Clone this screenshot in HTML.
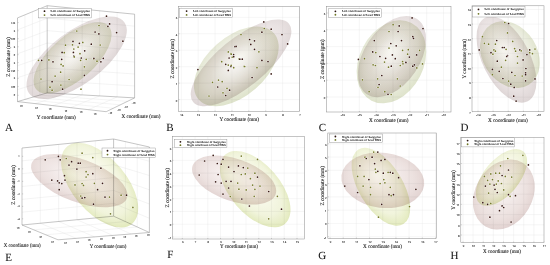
<!DOCTYPE html>
<html><head><meta charset="utf-8"><style>
html,body{margin:0;padding:0;background:#fff;width:550px;height:265px;overflow:hidden;}
svg{display:block;font-family:"Liberation Serif",serif;isolation:isolate;text-rendering:geometricPrecision}
</style></head><body><svg width="550" height="265" viewBox="0 0 550 265"><defs><radialGradient id="g1" cx="0.490" cy="0.536" r="0.56" fx="0.472" fy="0.604"><stop offset="0" stop-color="#fbf9f8"/><stop offset="0.35" stop-color="#f2eded"/><stop offset="0.7" stop-color="#eae3e3"/><stop offset="0.9" stop-color="#e1d9d9"/><stop offset="1" stop-color="#dcd4d4"/></radialGradient><radialGradient id="g2" cx="0.488" cy="0.536" r="0.56" fx="0.464" fy="0.602"><stop offset="0" stop-color="#fbfbf6"/><stop offset="0.35" stop-color="#f2f3ea"/><stop offset="0.7" stop-color="#eaecdd"/><stop offset="0.9" stop-color="#e1e5cf"/><stop offset="1" stop-color="#dde2c9"/></radialGradient><radialGradient id="g3" cx="0.5" cy="0.5" r="0.5"><stop offset="0" stop-color="#fff" stop-opacity="0.45"/><stop offset="0.5" stop-color="#fff" stop-opacity="0.225"/><stop offset="1" stop-color="#fff" stop-opacity="0"/></radialGradient><radialGradient id="g4" cx="0.525" cy="0.528" r="0.56" fx="0.572" fy="0.580"><stop offset="0" stop-color="#f9f5f4"/><stop offset="0.35" stop-color="#f3ebea"/><stop offset="0.7" stop-color="#ece1df"/><stop offset="0.9" stop-color="#e5d7d5"/><stop offset="1" stop-color="#dfd0cf"/></radialGradient><radialGradient id="g5" cx="0.536" cy="0.512" r="0.56" fx="0.602" fy="0.534"><stop offset="0" stop-color="#fdfdf6"/><stop offset="0.4" stop-color="#f8f9ea"/><stop offset="0.72" stop-color="#f1f4dc"/><stop offset="0.9" stop-color="#e7edc6"/><stop offset="1" stop-color="#dfe7b6"/></radialGradient><radialGradient id="g6" cx="0.489" cy="0.536" r="0.56" fx="0.468" fy="0.603"><stop offset="0" stop-color="#fbf9f8"/><stop offset="0.35" stop-color="#f2eded"/><stop offset="0.7" stop-color="#eae3e3"/><stop offset="0.9" stop-color="#e1d9d9"/><stop offset="1" stop-color="#dcd4d4"/></radialGradient><radialGradient id="g7" cx="0.487" cy="0.536" r="0.56" fx="0.464" fy="0.602"><stop offset="0" stop-color="#fbfbf6"/><stop offset="0.35" stop-color="#f2f3ea"/><stop offset="0.7" stop-color="#eaecdd"/><stop offset="0.9" stop-color="#e1e5cf"/><stop offset="1" stop-color="#dde2c9"/></radialGradient><radialGradient id="g8" cx="0.5" cy="0.5" r="0.5"><stop offset="0" stop-color="#fff" stop-opacity="0.45"/><stop offset="0.5" stop-color="#fff" stop-opacity="0.225"/><stop offset="1" stop-color="#fff" stop-opacity="0"/></radialGradient><radialGradient id="g9" cx="0.521" cy="0.469" r="0.56" fx="0.561" fy="0.411"><stop offset="0" stop-color="#fbf9f8"/><stop offset="0.35" stop-color="#f2eded"/><stop offset="0.7" stop-color="#eae3e3"/><stop offset="0.9" stop-color="#e1d9d9"/><stop offset="1" stop-color="#dcd4d4"/></radialGradient><radialGradient id="g10" cx="0.525" cy="0.472" r="0.56" fx="0.571" fy="0.419"><stop offset="0" stop-color="#fbfbf6"/><stop offset="0.35" stop-color="#f2f3ea"/><stop offset="0.7" stop-color="#eaecdd"/><stop offset="0.9" stop-color="#e1e5cf"/><stop offset="1" stop-color="#dde2c9"/></radialGradient><radialGradient id="g11" cx="0.5" cy="0.5" r="0.5"><stop offset="0" stop-color="#fff" stop-opacity="0.3"/><stop offset="0.5" stop-color="#fff" stop-opacity="0.15"/><stop offset="1" stop-color="#fff" stop-opacity="0"/></radialGradient><radialGradient id="g12" cx="0.538" cy="0.503" r="0.56" fx="0.607" fy="0.510"><stop offset="0" stop-color="#fbf9f8"/><stop offset="0.35" stop-color="#f2eded"/><stop offset="0.7" stop-color="#eae3e3"/><stop offset="0.9" stop-color="#e1d9d9"/><stop offset="1" stop-color="#dcd4d4"/></radialGradient><radialGradient id="g13" cx="0.537" cy="0.507" r="0.56" fx="0.606" fy="0.519"><stop offset="0" stop-color="#fbfbf6"/><stop offset="0.35" stop-color="#f2f3ea"/><stop offset="0.7" stop-color="#eaecdd"/><stop offset="0.9" stop-color="#e1e5cf"/><stop offset="1" stop-color="#dde2c9"/></radialGradient><radialGradient id="g14" cx="0.5" cy="0.5" r="0.5"><stop offset="0" stop-color="#fff" stop-opacity="0.3"/><stop offset="0.5" stop-color="#fff" stop-opacity="0.15"/><stop offset="1" stop-color="#fff" stop-opacity="0"/></radialGradient><radialGradient id="g15" cx="0.525" cy="0.529" r="0.56" fx="0.570" fy="0.582"><stop offset="0" stop-color="#f9f5f4"/><stop offset="0.35" stop-color="#f3ebea"/><stop offset="0.7" stop-color="#ece1df"/><stop offset="0.9" stop-color="#e5d7d5"/><stop offset="1" stop-color="#dfd0cf"/></radialGradient><radialGradient id="g16" cx="0.536" cy="0.512" r="0.56" fx="0.602" fy="0.535"><stop offset="0" stop-color="#fdfdf6"/><stop offset="0.4" stop-color="#f8f9ea"/><stop offset="0.72" stop-color="#f1f4dc"/><stop offset="0.9" stop-color="#e7edc6"/><stop offset="1" stop-color="#dfe7b6"/></radialGradient><radialGradient id="g17" cx="0.518" cy="0.533" r="0.56" fx="0.552" fy="0.594"><stop offset="0" stop-color="#f9f5f4"/><stop offset="0.35" stop-color="#f3ebea"/><stop offset="0.7" stop-color="#ece1df"/><stop offset="0.9" stop-color="#e5d7d5"/><stop offset="1" stop-color="#dfd0cf"/></radialGradient><radialGradient id="g18" cx="0.537" cy="0.506" r="0.56" fx="0.606" fy="0.517"><stop offset="0" stop-color="#fdfdf6"/><stop offset="0.4" stop-color="#f8f9ea"/><stop offset="0.72" stop-color="#f1f4dc"/><stop offset="0.9" stop-color="#e7edc6"/><stop offset="1" stop-color="#dfe7b6"/></radialGradient><radialGradient id="g19" cx="0.523" cy="0.470" r="0.56" fx="0.567" fy="0.415"><stop offset="0" stop-color="#f9f5f4"/><stop offset="0.35" stop-color="#f3ebea"/><stop offset="0.7" stop-color="#ece1df"/><stop offset="0.9" stop-color="#e5d7d5"/><stop offset="1" stop-color="#dfd0cf"/></radialGradient><radialGradient id="g20" cx="0.518" cy="0.467" r="0.56" fx="0.551" fy="0.405"><stop offset="0" stop-color="#fdfdf6"/><stop offset="0.4" stop-color="#f8f9ea"/><stop offset="0.72" stop-color="#f1f4dc"/><stop offset="0.9" stop-color="#e7edc6"/><stop offset="1" stop-color="#dfe7b6"/></radialGradient></defs><rect width="550" height="265" fill="#fff"/><g font-family="Liberation Serif">
<line x1="24.93" y1="14.85" x2="24.93" y2="99.42" stroke="#e0e0e0" stroke-width="0.35"/>
<line x1="32.35" y1="11.80" x2="32.35" y2="97.25" stroke="#e0e0e0" stroke-width="0.35"/>
<line x1="39.78" y1="8.75" x2="39.78" y2="95.08" stroke="#e0e0e0" stroke-width="0.35"/>
<line x1="17.50" y1="29.86" x2="47.20" y2="18.16" stroke="#e0e0e0" stroke-width="0.35"/>
<line x1="47.20" y1="18.16" x2="134.60" y2="26.16" stroke="#e0e0e0" stroke-width="0.35"/>
<line x1="17.50" y1="41.81" x2="47.20" y2="30.61" stroke="#e0e0e0" stroke-width="0.35"/>
<line x1="47.20" y1="30.61" x2="134.60" y2="38.11" stroke="#e0e0e0" stroke-width="0.35"/>
<line x1="17.50" y1="53.77" x2="47.20" y2="43.07" stroke="#e0e0e0" stroke-width="0.35"/>
<line x1="47.20" y1="43.07" x2="134.60" y2="50.07" stroke="#e0e0e0" stroke-width="0.35"/>
<line x1="17.50" y1="65.73" x2="47.20" y2="55.53" stroke="#e0e0e0" stroke-width="0.35"/>
<line x1="47.20" y1="55.53" x2="134.60" y2="62.03" stroke="#e0e0e0" stroke-width="0.35"/>
<line x1="17.50" y1="77.69" x2="47.20" y2="67.99" stroke="#e0e0e0" stroke-width="0.35"/>
<line x1="47.20" y1="67.99" x2="134.60" y2="73.99" stroke="#e0e0e0" stroke-width="0.35"/>
<line x1="17.50" y1="89.64" x2="47.20" y2="80.44" stroke="#e0e0e0" stroke-width="0.35"/>
<line x1="47.20" y1="80.44" x2="134.60" y2="85.94" stroke="#e0e0e0" stroke-width="0.35"/>
<line x1="64.68" y1="7.40" x2="64.68" y2="93.90" stroke="#e0e0e0" stroke-width="0.35"/>
<line x1="82.16" y1="9.10" x2="82.16" y2="94.90" stroke="#e0e0e0" stroke-width="0.35"/>
<line x1="99.64" y1="10.80" x2="99.64" y2="95.90" stroke="#e0e0e0" stroke-width="0.35"/>
<line x1="117.12" y1="12.50" x2="117.12" y2="96.90" stroke="#e0e0e0" stroke-width="0.35"/>
<line x1="35.24" y1="103.62" x2="64.68" y2="93.90" stroke="#e0e0e0" stroke-width="0.35"/>
<line x1="52.98" y1="105.64" x2="82.16" y2="94.90" stroke="#e0e0e0" stroke-width="0.35"/>
<line x1="70.72" y1="107.66" x2="99.64" y2="95.90" stroke="#e0e0e0" stroke-width="0.35"/>
<line x1="88.46" y1="109.68" x2="117.12" y2="96.90" stroke="#e0e0e0" stroke-width="0.35"/>
<line x1="24.93" y1="99.42" x2="113.30" y2="108.25" stroke="#e0e0e0" stroke-width="0.35"/>
<line x1="32.35" y1="97.25" x2="120.40" y2="104.80" stroke="#e0e0e0" stroke-width="0.35"/>
<line x1="39.78" y1="95.08" x2="127.50" y2="101.35" stroke="#e0e0e0" stroke-width="0.35"/>
<line x1="17.50" y1="17.90" x2="17.50" y2="101.60" stroke="#8c8c8c" stroke-width="0.5"/>
<line x1="47.20" y1="5.70" x2="47.20" y2="92.90" stroke="#8c8c8c" stroke-width="0.5"/>
<line x1="134.60" y1="14.20" x2="134.60" y2="97.90" stroke="#8c8c8c" stroke-width="0.5"/>
<line x1="17.50" y1="17.90" x2="47.20" y2="5.70" stroke="#8c8c8c" stroke-width="0.5"/>
<line x1="47.20" y1="5.70" x2="134.60" y2="14.20" stroke="#8c8c8c" stroke-width="0.5"/>
<line x1="17.50" y1="101.60" x2="47.20" y2="92.90" stroke="#8c8c8c" stroke-width="0.5"/>
<line x1="47.20" y1="92.90" x2="134.60" y2="97.90" stroke="#8c8c8c" stroke-width="0.5"/>
<line x1="17.50" y1="101.60" x2="106.20" y2="111.70" stroke="#8c8c8c" stroke-width="0.5"/>
<line x1="106.20" y1="111.70" x2="134.60" y2="97.90" stroke="#8c8c8c" stroke-width="0.5"/>
<text x="15.20" y="23.50" font-size="2.8" text-anchor="end" fill="#111" stroke="#222" stroke-width="0.08">125</text>
<line x1="17.50" y1="22.60" x2="18.70" y2="22.60" stroke="#777" stroke-width="0.3"/>
<text x="15.20" y="31.70" font-size="2.8" text-anchor="end" fill="#111" stroke="#222" stroke-width="0.08">5</text>
<line x1="17.50" y1="30.80" x2="18.70" y2="30.80" stroke="#777" stroke-width="0.3"/>
<text x="15.20" y="39.60" font-size="2.8" text-anchor="end" fill="#111" stroke="#222" stroke-width="0.08">100</text>
<line x1="17.50" y1="38.70" x2="18.70" y2="38.70" stroke="#777" stroke-width="0.3"/>
<text x="15.20" y="47.70" font-size="2.8" text-anchor="end" fill="#111" stroke="#222" stroke-width="0.08">5</text>
<line x1="17.50" y1="46.80" x2="18.70" y2="46.80" stroke="#777" stroke-width="0.3"/>
<text x="15.20" y="55.60" font-size="2.8" text-anchor="end" fill="#111" stroke="#222" stroke-width="0.08">0</text>
<line x1="17.50" y1="54.70" x2="18.70" y2="54.70" stroke="#777" stroke-width="0.3"/>
<text x="15.20" y="63.50" font-size="2.8" text-anchor="end" fill="#111" stroke="#222" stroke-width="0.08">5</text>
<line x1="17.50" y1="62.60" x2="18.70" y2="62.60" stroke="#777" stroke-width="0.3"/>
<text x="15.20" y="71.50" font-size="2.8" text-anchor="end" fill="#111" stroke="#222" stroke-width="0.08">150</text>
<line x1="17.50" y1="70.60" x2="18.70" y2="70.60" stroke="#777" stroke-width="0.3"/>
<text x="15.20" y="79.40" font-size="2.8" text-anchor="end" fill="#111" stroke="#222" stroke-width="0.08">5</text>
<line x1="17.50" y1="78.50" x2="18.70" y2="78.50" stroke="#777" stroke-width="0.3"/>
<text x="15.20" y="87.50" font-size="2.8" text-anchor="end" fill="#111" stroke="#222" stroke-width="0.08">100</text>
<line x1="17.50" y1="86.60" x2="18.70" y2="86.60" stroke="#777" stroke-width="0.3"/>
<text x="15.20" y="96.20" font-size="2.8" text-anchor="end" fill="#111" stroke="#222" stroke-width="0.08">0</text>
<line x1="17.50" y1="95.30" x2="18.70" y2="95.30" stroke="#777" stroke-width="0.3"/>
<text x="21.30" y="107.00" font-size="2.8" text-anchor="middle" fill="#111" stroke="#222" stroke-width="0.08">10</text>
<text x="36.40" y="108.50" font-size="2.8" text-anchor="middle" fill="#111" stroke="#222" stroke-width="0.08">10</text>
<text x="50.00" y="110.00" font-size="2.8" text-anchor="middle" fill="#111" stroke="#222" stroke-width="0.08">10</text>
<text x="65.80" y="111.50" font-size="2.8" text-anchor="middle" fill="#111" stroke="#222" stroke-width="0.08">10</text>
<text x="81.00" y="113.20" font-size="2.8" text-anchor="middle" fill="#111" stroke="#222" stroke-width="0.08">10</text>
<text x="95.00" y="114.70" font-size="2.8" text-anchor="middle" fill="#111" stroke="#222" stroke-width="0.08">10</text>
<text x="110.40" y="113.90" font-size="2.8" text-anchor="middle" fill="#111" stroke="#222" stroke-width="0.08">-10</text>
<text x="118.90" y="110.90" font-size="2.8" text-anchor="middle" fill="#111" stroke="#222" stroke-width="0.08">-10</text>
<text x="126.00" y="107.70" font-size="2.8" text-anchor="middle" fill="#111" stroke="#222" stroke-width="0.08">-10</text>
<text x="133.60" y="104.30" font-size="2.8" text-anchor="middle" fill="#111" stroke="#222" stroke-width="0.08">-10</text>
<text x="56.30" y="118.80" font-size="5.5" text-anchor="middle" fill="#111" textLength="39.00" lengthAdjust="spacingAndGlyphs" stroke="#111" stroke-width="0.09">Y coordinate (mm)</text>
<text x="141.00" y="118.20" font-size="5.5" text-anchor="middle" fill="#111" textLength="39.00" lengthAdjust="spacingAndGlyphs" stroke="#111" stroke-width="0.09">X coordinate (mm)</text>
<text x="9.60" y="57.00" font-size="5.5" text-anchor="middle" fill="#111" textLength="39.50" lengthAdjust="spacingAndGlyphs" transform="rotate(-90 9.60 57.00)" stroke="#111" stroke-width="0.09">Z coordinate (mm)</text>
<text x="9.00" y="130.80" font-size="11" text-anchor="middle" fill="#111" stroke="#111" stroke-width="0.05">A</text>
<ellipse cx="76.67" cy="57.72" rx="59.47" ry="26.13" transform="rotate(143.26 76.67 57.72)" fill="url(#g1)" stroke="none" style="mix-blend-mode:multiply"/>
<ellipse cx="72.57" cy="57.86" rx="48.03" ry="22.13" transform="rotate(138.88 72.57 57.86)" fill="url(#g2)" stroke="none" style="mix-blend-mode:multiply"/>
<ellipse cx="72.57" cy="57.86" rx="28.82" ry="13.28" transform="rotate(138.88 72.57 57.86)" fill="url(#g3)"/>
<circle cx="76.80" cy="31.00" r="1.3" fill="#fff" fill-opacity="0.65"/><circle cx="76.80" cy="31.00" r="0.85" fill="#767a2a"/>
<circle cx="95.10" cy="32.00" r="1.3" fill="#fff" fill-opacity="0.65"/><circle cx="95.10" cy="32.00" r="0.85" fill="#3a1a14"/>
<circle cx="98.90" cy="33.90" r="1.3" fill="#fff" fill-opacity="0.65"/><circle cx="98.90" cy="33.90" r="0.85" fill="#3a1a14"/>
<circle cx="73.00" cy="41.40" r="1.3" fill="#fff" fill-opacity="0.65"/><circle cx="73.00" cy="41.40" r="0.85" fill="#3a1a14"/>
<circle cx="79.40" cy="43.30" r="1.3" fill="#fff" fill-opacity="0.65"/><circle cx="79.40" cy="43.30" r="0.85" fill="#3a1a14"/>
<circle cx="82.80" cy="42.40" r="1.3" fill="#fff" fill-opacity="0.65"/><circle cx="82.80" cy="42.40" r="0.85" fill="#767a2a"/>
<circle cx="91.30" cy="44.20" r="1.3" fill="#fff" fill-opacity="0.65"/><circle cx="91.30" cy="44.20" r="0.85" fill="#3a1a14"/>
<circle cx="65.50" cy="45.20" r="1.3" fill="#fff" fill-opacity="0.65"/><circle cx="65.50" cy="45.20" r="0.85" fill="#767a2a"/>
<circle cx="72.50" cy="44.80" r="1.3" fill="#fff" fill-opacity="0.65"/><circle cx="72.50" cy="44.80" r="0.85" fill="#767a2a"/>
<circle cx="78.10" cy="47.10" r="1.3" fill="#fff" fill-opacity="0.65"/><circle cx="78.10" cy="47.10" r="0.85" fill="#767a2a"/>
<circle cx="73.80" cy="49.00" r="1.3" fill="#fff" fill-opacity="0.65"/><circle cx="73.80" cy="49.00" r="0.85" fill="#767a2a"/>
<circle cx="84.70" cy="50.80" r="1.3" fill="#fff" fill-opacity="0.65"/><circle cx="84.70" cy="50.80" r="0.85" fill="#3a1a14"/>
<circle cx="62.10" cy="52.40" r="1.3" fill="#fff" fill-opacity="0.65"/><circle cx="62.10" cy="52.40" r="0.85" fill="#3a1a14"/>
<circle cx="64.30" cy="52.70" r="1.3" fill="#fff" fill-opacity="0.65"/><circle cx="64.30" cy="52.70" r="0.85" fill="#767a2a"/>
<circle cx="73.40" cy="52.40" r="1.3" fill="#fff" fill-opacity="0.65"/><circle cx="73.40" cy="52.40" r="0.85" fill="#3a1a14"/>
<circle cx="80.00" cy="53.70" r="1.3" fill="#fff" fill-opacity="0.65"/><circle cx="80.00" cy="53.70" r="0.85" fill="#767a2a"/>
<circle cx="73.80" cy="56.10" r="1.3" fill="#fff" fill-opacity="0.65"/><circle cx="73.80" cy="56.10" r="0.85" fill="#3a1a14"/>
<circle cx="74.30" cy="56.90" r="1.3" fill="#fff" fill-opacity="0.65"/><circle cx="74.30" cy="56.90" r="0.85" fill="#767a2a"/>
<circle cx="81.30" cy="58.00" r="1.3" fill="#fff" fill-opacity="0.65"/><circle cx="81.30" cy="58.00" r="0.85" fill="#3a1a14"/>
<circle cx="86.20" cy="59.30" r="1.3" fill="#fff" fill-opacity="0.65"/><circle cx="86.20" cy="59.30" r="0.85" fill="#767a2a"/>
<circle cx="93.80" cy="58.80" r="1.3" fill="#fff" fill-opacity="0.65"/><circle cx="93.80" cy="58.80" r="0.85" fill="#767a2a"/>
<circle cx="38.50" cy="60.30" r="1.3" fill="#fff" fill-opacity="0.65"/><circle cx="38.50" cy="60.30" r="0.85" fill="#767a2a"/>
<circle cx="41.70" cy="60.30" r="1.3" fill="#fff" fill-opacity="0.65"/><circle cx="41.70" cy="60.30" r="0.85" fill="#3a1a14"/>
<circle cx="48.90" cy="59.90" r="1.3" fill="#fff" fill-opacity="0.65"/><circle cx="48.90" cy="59.90" r="0.85" fill="#767a2a"/>
<circle cx="53.00" cy="61.80" r="1.3" fill="#fff" fill-opacity="0.65"/><circle cx="53.00" cy="61.80" r="0.85" fill="#3a1a14"/>
<circle cx="61.70" cy="59.30" r="1.3" fill="#fff" fill-opacity="0.65"/><circle cx="61.70" cy="59.30" r="0.85" fill="#3a1a14"/>
<circle cx="80.60" cy="60.30" r="1.3" fill="#fff" fill-opacity="0.65"/><circle cx="80.60" cy="60.30" r="0.85" fill="#767a2a"/>
<circle cx="97.00" cy="61.20" r="1.3" fill="#fff" fill-opacity="0.65"/><circle cx="97.00" cy="61.20" r="0.85" fill="#767a2a"/>
<circle cx="61.10" cy="64.40" r="1.3" fill="#fff" fill-opacity="0.65"/><circle cx="61.10" cy="64.40" r="0.85" fill="#767a2a"/>
<circle cx="63.10" cy="65.90" r="1.3" fill="#fff" fill-opacity="0.65"/><circle cx="63.10" cy="65.90" r="0.85" fill="#767a2a"/>
<circle cx="84.40" cy="66.80" r="1.3" fill="#fff" fill-opacity="0.65"/><circle cx="84.40" cy="66.80" r="0.85" fill="#767a2a"/>
<circle cx="60.60" cy="72.20" r="1.3" fill="#fff" fill-opacity="0.65"/><circle cx="60.60" cy="72.20" r="0.85" fill="#767a2a"/>
<circle cx="55.10" cy="76.10" r="1.3" fill="#fff" fill-opacity="0.65"/><circle cx="55.10" cy="76.10" r="0.85" fill="#767a2a"/>
<circle cx="84.40" cy="75.30" r="1.3" fill="#fff" fill-opacity="0.65"/><circle cx="84.40" cy="75.30" r="0.85" fill="#3a1a14"/>
<circle cx="41.00" cy="79.00" r="1.3" fill="#fff" fill-opacity="0.65"/><circle cx="41.00" cy="79.00" r="0.85" fill="#767a2a"/>
<circle cx="69.10" cy="79.50" r="1.3" fill="#fff" fill-opacity="0.65"/><circle cx="69.10" cy="79.50" r="0.85" fill="#767a2a"/>
<circle cx="52.10" cy="81.70" r="1.3" fill="#fff" fill-opacity="0.65"/><circle cx="52.10" cy="81.70" r="0.85" fill="#3a1a14"/>
<circle cx="60.90" cy="85.10" r="1.3" fill="#fff" fill-opacity="0.65"/><circle cx="60.90" cy="85.10" r="0.85" fill="#767a2a"/>
<circle cx="50.00" cy="87.20" r="1.3" fill="#fff" fill-opacity="0.65"/><circle cx="50.00" cy="87.20" r="0.85" fill="#767a2a"/>
<circle cx="52.10" cy="90.20" r="1.3" fill="#fff" fill-opacity="0.65"/><circle cx="52.10" cy="90.20" r="0.85" fill="#767a2a"/>
<circle cx="62.60" cy="89.20" r="1.3" fill="#fff" fill-opacity="0.65"/><circle cx="62.60" cy="89.20" r="0.85" fill="#3a1a14"/>
<circle cx="81.00" cy="89.20" r="1.3" fill="#fff" fill-opacity="0.65"/><circle cx="81.00" cy="89.20" r="0.85" fill="#767a2a"/>
<circle cx="106.50" cy="16.20" r="1.3" fill="#fff" fill-opacity="0.65"/><circle cx="106.50" cy="16.20" r="0.85" fill="#3a1a14"/>
<circle cx="109.60" cy="23.90" r="1.3" fill="#fff" fill-opacity="0.65"/><circle cx="109.60" cy="23.90" r="0.85" fill="#3a1a14"/>
<circle cx="107.90" cy="26.30" r="1.3" fill="#fff" fill-opacity="0.65"/><circle cx="107.90" cy="26.30" r="0.85" fill="#3a1a14"/>
<circle cx="99.00" cy="25.50" r="1.3" fill="#fff" fill-opacity="0.65"/><circle cx="99.00" cy="25.50" r="0.85" fill="#767a2a"/>
<circle cx="116.60" cy="32.60" r="1.3" fill="#fff" fill-opacity="0.65"/><circle cx="116.60" cy="32.60" r="0.85" fill="#3a1a14"/>
<circle cx="122.90" cy="41.20" r="1.3" fill="#fff" fill-opacity="0.65"/><circle cx="122.90" cy="41.20" r="0.85" fill="#3a1a14"/>
<circle cx="100.20" cy="45.00" r="1.3" fill="#fff" fill-opacity="0.65"/><circle cx="100.20" cy="45.00" r="0.85" fill="#767a2a"/>
<circle cx="103.30" cy="58.30" r="1.3" fill="#fff" fill-opacity="0.65"/><circle cx="103.30" cy="58.30" r="0.85" fill="#3a1a14"/>
<circle cx="93.90" cy="58.30" r="1.3" fill="#fff" fill-opacity="0.65"/><circle cx="93.90" cy="58.30" r="0.85" fill="#3a1a14"/>
<circle cx="100.90" cy="61.80" r="1.3" fill="#fff" fill-opacity="0.65"/><circle cx="100.90" cy="61.80" r="0.85" fill="#3a1a14"/>
<rect x="38.3" y="8.3" width="52.900000000000006" height="9.599999999999998" fill="#fff" stroke="#888" stroke-width="0.4"/>
<circle cx="44.5" cy="11.18" r="0.9" fill="#2a1410"/>
<circle cx="44.5" cy="15.12" r="0.9" fill="#6b7420"/>
<text transform="translate(50.50 12.23) scale(0.2900)" x="0" y="0" font-size="10" fill="#111" textLength="136.2" lengthAdjust="spacingAndGlyphs" text-rendering="geometricPrecision" stroke="#111" stroke-width="0.241">Left coordinate of Surgiplan</text>
<text transform="translate(50.50 16.17) scale(0.2900)" x="0" y="0" font-size="10" fill="#111" textLength="136.2" lengthAdjust="spacingAndGlyphs" text-rendering="geometricPrecision" stroke="#111" stroke-width="0.241">Left coordinate of Lead DBS</text>
<line x1="40.32" y1="146.20" x2="40.32" y2="223.24" stroke="#e0e0e0" stroke-width="0.35"/>
<line x1="58.64" y1="144.40" x2="58.64" y2="221.48" stroke="#e0e0e0" stroke-width="0.35"/>
<line x1="76.96" y1="142.60" x2="76.96" y2="219.72" stroke="#e0e0e0" stroke-width="0.35"/>
<line x1="95.28" y1="140.80" x2="95.28" y2="217.96" stroke="#e0e0e0" stroke-width="0.35"/>
<line x1="22.00" y1="160.83" x2="113.60" y2="151.87" stroke="#e0e0e0" stroke-width="0.35"/>
<line x1="113.60" y1="151.87" x2="149.40" y2="161.25" stroke="#e0e0e0" stroke-width="0.35"/>
<line x1="22.00" y1="173.67" x2="113.60" y2="164.73" stroke="#e0e0e0" stroke-width="0.35"/>
<line x1="113.60" y1="164.73" x2="149.40" y2="175.50" stroke="#e0e0e0" stroke-width="0.35"/>
<line x1="22.00" y1="186.50" x2="113.60" y2="177.60" stroke="#e0e0e0" stroke-width="0.35"/>
<line x1="113.60" y1="177.60" x2="149.40" y2="189.75" stroke="#e0e0e0" stroke-width="0.35"/>
<line x1="22.00" y1="199.33" x2="113.60" y2="190.47" stroke="#e0e0e0" stroke-width="0.35"/>
<line x1="113.60" y1="190.47" x2="149.40" y2="204.00" stroke="#e0e0e0" stroke-width="0.35"/>
<line x1="22.00" y1="212.17" x2="113.60" y2="203.33" stroke="#e0e0e0" stroke-width="0.35"/>
<line x1="113.60" y1="203.33" x2="149.40" y2="218.25" stroke="#e0e0e0" stroke-width="0.35"/>
<line x1="125.41" y1="141.64" x2="125.41" y2="221.58" stroke="#e0e0e0" stroke-width="0.35"/>
<line x1="137.23" y1="144.28" x2="137.23" y2="226.96" stroke="#e0e0e0" stroke-width="0.35"/>
<line x1="33.88" y1="229.88" x2="125.41" y2="221.58" stroke="#e0e0e0" stroke-width="0.35"/>
<line x1="45.76" y1="234.77" x2="137.23" y2="226.96" stroke="#e0e0e0" stroke-width="0.35"/>
<line x1="40.32" y1="223.24" x2="76.28" y2="238.34" stroke="#e0e0e0" stroke-width="0.35"/>
<line x1="58.64" y1="221.48" x2="94.56" y2="236.88" stroke="#e0e0e0" stroke-width="0.35"/>
<line x1="76.96" y1="219.72" x2="112.84" y2="235.42" stroke="#e0e0e0" stroke-width="0.35"/>
<line x1="95.28" y1="217.96" x2="131.12" y2="233.96" stroke="#e0e0e0" stroke-width="0.35"/>
<line x1="22.00" y1="148.00" x2="22.00" y2="225.00" stroke="#8c8c8c" stroke-width="0.5"/>
<line x1="113.60" y1="139.00" x2="113.60" y2="216.20" stroke="#8c8c8c" stroke-width="0.5"/>
<line x1="149.40" y1="147.00" x2="149.40" y2="232.50" stroke="#8c8c8c" stroke-width="0.5"/>
<line x1="22.00" y1="148.00" x2="113.60" y2="139.00" stroke="#8c8c8c" stroke-width="0.5"/>
<line x1="113.60" y1="139.00" x2="149.40" y2="147.00" stroke="#8c8c8c" stroke-width="0.5"/>
<line x1="22.00" y1="225.00" x2="113.60" y2="216.20" stroke="#8c8c8c" stroke-width="0.5"/>
<line x1="113.60" y1="216.20" x2="149.40" y2="232.50" stroke="#8c8c8c" stroke-width="0.5"/>
<line x1="22.00" y1="225.00" x2="58.00" y2="239.80" stroke="#8c8c8c" stroke-width="0.5"/>
<line x1="58.00" y1="239.80" x2="149.40" y2="232.50" stroke="#8c8c8c" stroke-width="0.5"/>
<text x="19.60" y="157.30" font-size="2.8" text-anchor="end" fill="#111" stroke="#222" stroke-width="0.08">1</text>
<line x1="22.00" y1="156.30" x2="23.20" y2="156.30" stroke="#777" stroke-width="0.3"/>
<text x="19.60" y="169.80" font-size="2.8" text-anchor="end" fill="#111" stroke="#222" stroke-width="0.08">0</text>
<line x1="22.00" y1="168.80" x2="23.20" y2="168.80" stroke="#777" stroke-width="0.3"/>
<text x="19.60" y="182.40" font-size="2.8" text-anchor="end" fill="#111" stroke="#222" stroke-width="0.08">-1</text>
<line x1="22.00" y1="181.40" x2="23.20" y2="181.40" stroke="#777" stroke-width="0.3"/>
<text x="19.60" y="194.90" font-size="2.8" text-anchor="end" fill="#111" stroke="#222" stroke-width="0.08">-2</text>
<line x1="22.00" y1="193.90" x2="23.20" y2="193.90" stroke="#777" stroke-width="0.3"/>
<text x="19.60" y="207.40" font-size="2.8" text-anchor="end" fill="#111" stroke="#222" stroke-width="0.08">-3</text>
<line x1="22.00" y1="206.40" x2="23.20" y2="206.40" stroke="#777" stroke-width="0.3"/>
<text x="19.60" y="219.80" font-size="2.8" text-anchor="end" fill="#111" stroke="#222" stroke-width="0.08">-4</text>
<line x1="22.00" y1="218.80" x2="23.20" y2="218.80" stroke="#777" stroke-width="0.3"/>
<text x="17.90" y="228.80" font-size="2.8" text-anchor="middle" fill="#111" stroke="#222" stroke-width="0.08">10</text>
<text x="29.20" y="233.40" font-size="2.8" text-anchor="middle" fill="#111" stroke="#222" stroke-width="0.08">10</text>
<text x="40.60" y="238.30" font-size="2.8" text-anchor="middle" fill="#111" stroke="#222" stroke-width="0.08">10</text>
<text x="52.50" y="243.40" font-size="2.8" text-anchor="middle" fill="#111" stroke="#222" stroke-width="0.08">10</text>
<text x="65.50" y="243.70" font-size="2.8" text-anchor="middle" fill="#111" stroke="#222" stroke-width="0.08">10</text>
<text x="77.50" y="242.70" font-size="2.8" text-anchor="middle" fill="#111" stroke="#222" stroke-width="0.08">10</text>
<text x="89.00" y="241.40" font-size="2.8" text-anchor="middle" fill="#111" stroke="#222" stroke-width="0.08">10</text>
<text x="101.20" y="240.20" font-size="2.8" text-anchor="middle" fill="#111" stroke="#222" stroke-width="0.08">10</text>
<text x="113.20" y="238.90" font-size="2.8" text-anchor="middle" fill="#111" stroke="#222" stroke-width="0.08">10</text>
<text x="124.70" y="238.00" font-size="2.8" text-anchor="middle" fill="#111" stroke="#222" stroke-width="0.08">10</text>
<text x="136.10" y="237.00" font-size="2.8" text-anchor="middle" fill="#111" stroke="#222" stroke-width="0.08">10</text>
<text x="148.20" y="235.70" font-size="2.8" text-anchor="middle" fill="#111" stroke="#222" stroke-width="0.08">10</text>
<text x="22.20" y="246.60" font-size="5.5" text-anchor="middle" fill="#111" textLength="36.80" lengthAdjust="spacingAndGlyphs" stroke="#111" stroke-width="0.09">X coordinate (mm)</text>
<text x="108.00" y="248.40" font-size="5.5" text-anchor="middle" fill="#111" textLength="36.50" lengthAdjust="spacingAndGlyphs" stroke="#111" stroke-width="0.09">Y coordinate (mm)</text>
<text x="14.60" y="185.00" font-size="5.5" text-anchor="middle" fill="#111" textLength="39.50" lengthAdjust="spacingAndGlyphs" transform="rotate(-90 14.60 185.00)" stroke="#111" stroke-width="0.09">Z coordinate (mm)</text>
<text x="8.70" y="261.20" font-size="11" text-anchor="middle" fill="#111" stroke="#111" stroke-width="0.05">E</text>
<ellipse cx="79.26" cy="180.72" rx="50.71" ry="21.42" transform="rotate(-159.88 79.26 180.72)" fill="url(#g4)" stroke="none" style="mix-blend-mode:multiply"/>
<ellipse cx="99.66" cy="185.11" rx="50.43" ry="27.03" transform="rotate(-130.16 99.66 185.11)" fill="url(#g5)" stroke="none" style="mix-blend-mode:multiply"/>
<circle cx="45.20" cy="159.80" r="1.3" fill="#fff" fill-opacity="0.65"/><circle cx="45.20" cy="159.80" r="0.85" fill="#3a1a14"/>
<circle cx="58.40" cy="156.40" r="1.3" fill="#fff" fill-opacity="0.65"/><circle cx="58.40" cy="156.40" r="0.85" fill="#3a1a14"/>
<circle cx="60.20" cy="159.80" r="1.3" fill="#fff" fill-opacity="0.65"/><circle cx="60.20" cy="159.80" r="0.85" fill="#3a1a14"/>
<circle cx="66.30" cy="158.50" r="1.3" fill="#fff" fill-opacity="0.65"/><circle cx="66.30" cy="158.50" r="0.85" fill="#767a2a"/>
<circle cx="69.00" cy="165.10" r="1.3" fill="#fff" fill-opacity="0.65"/><circle cx="69.00" cy="165.10" r="0.85" fill="#3a1a14"/>
<circle cx="82.10" cy="153.20" r="1.3" fill="#fff" fill-opacity="0.65"/><circle cx="82.10" cy="153.20" r="0.85" fill="#767a2a"/>
<circle cx="71.60" cy="161.70" r="1.3" fill="#fff" fill-opacity="0.65"/><circle cx="71.60" cy="161.70" r="0.85" fill="#3a1a14"/>
<circle cx="78.20" cy="163.20" r="1.3" fill="#fff" fill-opacity="0.65"/><circle cx="78.20" cy="163.20" r="0.85" fill="#3a1a14"/>
<circle cx="80.30" cy="163.20" r="1.3" fill="#fff" fill-opacity="0.65"/><circle cx="80.30" cy="163.20" r="0.85" fill="#3a1a14"/>
<circle cx="76.90" cy="169.10" r="1.3" fill="#fff" fill-opacity="0.65"/><circle cx="76.90" cy="169.10" r="0.85" fill="#3a1a14"/>
<circle cx="86.10" cy="171.70" r="1.3" fill="#fff" fill-opacity="0.65"/><circle cx="86.10" cy="171.70" r="0.85" fill="#767a2a"/>
<circle cx="64.50" cy="175.70" r="1.3" fill="#fff" fill-opacity="0.65"/><circle cx="64.50" cy="175.70" r="0.85" fill="#3a1a14"/>
<circle cx="51.80" cy="180.10" r="1.3" fill="#fff" fill-opacity="0.65"/><circle cx="51.80" cy="180.10" r="0.85" fill="#3a1a14"/>
<circle cx="57.60" cy="180.90" r="1.3" fill="#fff" fill-opacity="0.65"/><circle cx="57.60" cy="180.90" r="0.85" fill="#3a1a14"/>
<circle cx="59.20" cy="182.80" r="1.3" fill="#fff" fill-opacity="0.65"/><circle cx="59.20" cy="182.80" r="0.85" fill="#3a1a14"/>
<circle cx="65.00" cy="180.10" r="1.3" fill="#fff" fill-opacity="0.65"/><circle cx="65.00" cy="180.10" r="0.85" fill="#3a1a14"/>
<circle cx="61.80" cy="183.60" r="1.3" fill="#fff" fill-opacity="0.65"/><circle cx="61.80" cy="183.60" r="0.85" fill="#3a1a14"/>
<circle cx="75.00" cy="184.90" r="1.3" fill="#fff" fill-opacity="0.65"/><circle cx="75.00" cy="184.90" r="0.85" fill="#767a2a"/>
<circle cx="82.10" cy="183.60" r="1.3" fill="#fff" fill-opacity="0.65"/><circle cx="82.10" cy="183.60" r="0.85" fill="#767a2a"/>
<circle cx="83.50" cy="185.40" r="1.3" fill="#fff" fill-opacity="0.65"/><circle cx="83.50" cy="185.40" r="0.85" fill="#767a2a"/>
<circle cx="59.20" cy="189.70" r="1.3" fill="#fff" fill-opacity="0.65"/><circle cx="59.20" cy="189.70" r="0.85" fill="#3a1a14"/>
<circle cx="80.80" cy="196.00" r="1.3" fill="#fff" fill-opacity="0.65"/><circle cx="80.80" cy="196.00" r="0.85" fill="#767a2a"/>
<circle cx="82.10" cy="198.10" r="1.3" fill="#fff" fill-opacity="0.65"/><circle cx="82.10" cy="198.10" r="0.85" fill="#3a1a14"/>
<circle cx="84.80" cy="197.60" r="1.3" fill="#fff" fill-opacity="0.65"/><circle cx="84.80" cy="197.60" r="0.85" fill="#3a1a14"/>
<circle cx="86.10" cy="177.00" r="1.3" fill="#fff" fill-opacity="0.65"/><circle cx="86.10" cy="177.00" r="0.85" fill="#767a2a"/>
<circle cx="92.80" cy="157.60" r="1.3" fill="#fff" fill-opacity="0.65"/><circle cx="92.80" cy="157.60" r="0.85" fill="#767a2a"/>
<circle cx="100.90" cy="168.20" r="1.3" fill="#fff" fill-opacity="0.65"/><circle cx="100.90" cy="168.20" r="0.85" fill="#3a1a14"/>
<circle cx="88.00" cy="174.60" r="1.3" fill="#fff" fill-opacity="0.65"/><circle cx="88.00" cy="174.60" r="0.85" fill="#767a2a"/>
<circle cx="92.80" cy="173.70" r="1.3" fill="#fff" fill-opacity="0.65"/><circle cx="92.80" cy="173.70" r="0.85" fill="#3a1a14"/>
<circle cx="94.40" cy="183.30" r="1.3" fill="#fff" fill-opacity="0.65"/><circle cx="94.40" cy="183.30" r="0.85" fill="#767a2a"/>
<circle cx="102.50" cy="183.30" r="1.3" fill="#fff" fill-opacity="0.65"/><circle cx="102.50" cy="183.30" r="0.85" fill="#3a1a14"/>
<circle cx="97.60" cy="189.70" r="1.3" fill="#fff" fill-opacity="0.65"/><circle cx="97.60" cy="189.70" r="0.85" fill="#3a1a14"/>
<circle cx="105.00" cy="197.10" r="1.3" fill="#fff" fill-opacity="0.65"/><circle cx="105.00" cy="197.10" r="0.85" fill="#3a1a14"/>
<circle cx="109.50" cy="197.10" r="1.3" fill="#fff" fill-opacity="0.65"/><circle cx="109.50" cy="197.10" r="0.85" fill="#767a2a"/>
<circle cx="121.10" cy="195.20" r="1.3" fill="#fff" fill-opacity="0.65"/><circle cx="121.10" cy="195.20" r="0.85" fill="#767a2a"/>
<circle cx="126.50" cy="195.20" r="1.3" fill="#fff" fill-opacity="0.65"/><circle cx="126.50" cy="195.20" r="0.85" fill="#3a1a14"/>
<circle cx="93.50" cy="204.20" r="1.3" fill="#fff" fill-opacity="0.65"/><circle cx="93.50" cy="204.20" r="0.85" fill="#3a1a14"/>
<circle cx="110.50" cy="213.80" r="1.3" fill="#fff" fill-opacity="0.65"/><circle cx="110.50" cy="213.80" r="0.85" fill="#767a2a"/>
<circle cx="132.90" cy="207.40" r="1.3" fill="#fff" fill-opacity="0.65"/><circle cx="132.90" cy="207.40" r="0.85" fill="#767a2a"/>
<rect x="102" y="148" width="53.69999999999999" height="9.199999999999989" fill="#fff" stroke="#888" stroke-width="0.4"/>
<circle cx="107.5" cy="150.76" r="0.9" fill="#2a1410"/>
<circle cx="107.5" cy="154.53" r="0.9" fill="#6b7420"/>
<text transform="translate(113.50 151.81) scale(0.2900)" x="0" y="0" font-size="10" fill="#111" textLength="141.4" lengthAdjust="spacingAndGlyphs" text-rendering="geometricPrecision" stroke="#111" stroke-width="0.241">Right coordinate of Surgiplan</text>
<text transform="translate(113.50 155.58) scale(0.2900)" x="0" y="0" font-size="10" fill="#111" textLength="141.4" lengthAdjust="spacingAndGlyphs" text-rendering="geometricPrecision" stroke="#111" stroke-width="0.241">Right coordinate of Lead DBS</text>
<line x1="181.30" y1="6.30" x2="181.30" y2="111.40" stroke="#e4e4e4" stroke-width="0.35"/>
<line x1="198.19" y1="6.30" x2="198.19" y2="111.40" stroke="#e4e4e4" stroke-width="0.35"/>
<line x1="215.07" y1="6.30" x2="215.07" y2="111.40" stroke="#e4e4e4" stroke-width="0.35"/>
<line x1="231.96" y1="6.30" x2="231.96" y2="111.40" stroke="#e4e4e4" stroke-width="0.35"/>
<line x1="248.84" y1="6.30" x2="248.84" y2="111.40" stroke="#e4e4e4" stroke-width="0.35"/>
<line x1="265.73" y1="6.30" x2="265.73" y2="111.40" stroke="#e4e4e4" stroke-width="0.35"/>
<line x1="282.61" y1="6.30" x2="282.61" y2="111.40" stroke="#e4e4e4" stroke-width="0.35"/>
<line x1="299.50" y1="6.30" x2="299.50" y2="111.40" stroke="#e4e4e4" stroke-width="0.35"/>
<line x1="178.60" y1="17.30" x2="299.60" y2="17.30" stroke="#e4e4e4" stroke-width="0.35"/>
<line x1="178.60" y1="33.76" x2="299.60" y2="33.76" stroke="#e4e4e4" stroke-width="0.35"/>
<line x1="178.60" y1="50.22" x2="299.60" y2="50.22" stroke="#e4e4e4" stroke-width="0.35"/>
<line x1="178.60" y1="66.68" x2="299.60" y2="66.68" stroke="#e4e4e4" stroke-width="0.35"/>
<line x1="178.60" y1="83.14" x2="299.60" y2="83.14" stroke="#e4e4e4" stroke-width="0.35"/>
<line x1="178.60" y1="99.60" x2="299.60" y2="99.60" stroke="#e4e4e4" stroke-width="0.35"/>
<rect x="178.6" y="6.3" width="121.00000000000003" height="105.10000000000001" fill="none" stroke="#8a8a8a" stroke-width="0.5"/>
<text x="181.70" y="115.60" font-size="3.1" text-anchor="middle" fill="#111" stroke="#222" stroke-width="0.08">14</text>
<line x1="181.30" y1="111.40" x2="181.30" y2="110.40" stroke="#777" stroke-width="0.3"/>
<text x="198.59" y="115.60" font-size="3.1" text-anchor="middle" fill="#111" stroke="#222" stroke-width="0.08">13</text>
<line x1="198.19" y1="111.40" x2="198.19" y2="110.40" stroke="#777" stroke-width="0.3"/>
<text x="215.47" y="115.60" font-size="3.1" text-anchor="middle" fill="#111" stroke="#222" stroke-width="0.08">12</text>
<line x1="215.07" y1="111.40" x2="215.07" y2="110.40" stroke="#777" stroke-width="0.3"/>
<text x="232.36" y="115.60" font-size="3.1" text-anchor="middle" fill="#111" stroke="#222" stroke-width="0.08">11</text>
<line x1="231.96" y1="111.40" x2="231.96" y2="110.40" stroke="#777" stroke-width="0.3"/>
<text x="249.24" y="115.60" font-size="3.1" text-anchor="middle" fill="#111" stroke="#222" stroke-width="0.08">10</text>
<line x1="248.84" y1="111.40" x2="248.84" y2="110.40" stroke="#777" stroke-width="0.3"/>
<text x="266.13" y="115.60" font-size="3.1" text-anchor="middle" fill="#111" stroke="#222" stroke-width="0.08">9</text>
<line x1="265.73" y1="111.40" x2="265.73" y2="110.40" stroke="#777" stroke-width="0.3"/>
<text x="283.01" y="115.60" font-size="3.1" text-anchor="middle" fill="#111" stroke="#222" stroke-width="0.08">8</text>
<line x1="282.61" y1="111.40" x2="282.61" y2="110.40" stroke="#777" stroke-width="0.3"/>
<text x="299.90" y="115.60" font-size="3.1" text-anchor="middle" fill="#111" stroke="#222" stroke-width="0.08">7</text>
<line x1="299.50" y1="111.40" x2="299.50" y2="110.40" stroke="#777" stroke-width="0.3"/>
<text x="177.40" y="19.20" font-size="3.1" text-anchor="end" fill="#111" stroke="#222" stroke-width="0.08">5</text>
<line x1="178.60" y1="17.30" x2="179.60" y2="17.30" stroke="#777" stroke-width="0.3"/>
<text x="177.40" y="35.66" font-size="3.1" text-anchor="end" fill="#111" stroke="#222" stroke-width="0.08">4</text>
<line x1="178.60" y1="33.76" x2="179.60" y2="33.76" stroke="#777" stroke-width="0.3"/>
<text x="177.40" y="52.12" font-size="3.1" text-anchor="end" fill="#111" stroke="#222" stroke-width="0.08">3</text>
<line x1="178.60" y1="50.22" x2="179.60" y2="50.22" stroke="#777" stroke-width="0.3"/>
<text x="177.40" y="68.58" font-size="3.1" text-anchor="end" fill="#111" stroke="#222" stroke-width="0.08">2</text>
<line x1="178.60" y1="66.68" x2="179.60" y2="66.68" stroke="#777" stroke-width="0.3"/>
<text x="177.40" y="85.04" font-size="3.1" text-anchor="end" fill="#111" stroke="#222" stroke-width="0.08">1</text>
<line x1="178.60" y1="83.14" x2="179.60" y2="83.14" stroke="#777" stroke-width="0.3"/>
<text x="177.40" y="101.50" font-size="3.1" text-anchor="end" fill="#111" stroke="#222" stroke-width="0.08">0</text>
<line x1="178.60" y1="99.60" x2="179.60" y2="99.60" stroke="#777" stroke-width="0.3"/>
<text x="239.20" y="120.80" font-size="5.5" text-anchor="middle" fill="#111" textLength="39.60" lengthAdjust="spacingAndGlyphs" stroke="#111" stroke-width="0.09">Y coordinate (mm)</text>
<text x="174.50" y="58.85" font-size="5.5" text-anchor="middle" fill="#111" textLength="39.50" lengthAdjust="spacingAndGlyphs" transform="rotate(-90 174.50 58.85)" stroke="#111" stroke-width="0.09">Z coordinate (mm)</text>
<text x="170.00" y="130.90" font-size="11" text-anchor="middle" fill="#111" stroke="#111" stroke-width="0.05">B</text>
<ellipse cx="241.06" cy="62.83" rx="61.90" ry="24.20" transform="rotate(140.76 241.06 62.83)" fill="url(#g6)" stroke="none" style="mix-blend-mode:multiply"/>
<ellipse cx="236.31" cy="66.35" rx="50.12" ry="29.47" transform="rotate(138.70 236.31 66.35)" fill="url(#g7)" stroke="none" style="mix-blend-mode:multiply"/>
<ellipse cx="236.31" cy="66.35" rx="30.07" ry="17.68" transform="rotate(138.70 236.31 66.35)" fill="url(#g8)"/>
<circle cx="197.90" cy="69.60" r="1.3" fill="#fff" fill-opacity="0.65"/><circle cx="197.90" cy="69.60" r="0.85" fill="#3a1a14"/>
<circle cx="234.90" cy="46.60" r="1.3" fill="#fff" fill-opacity="0.65"/><circle cx="234.90" cy="46.60" r="0.85" fill="#3a1a14"/>
<circle cx="228.30" cy="51.90" r="1.3" fill="#fff" fill-opacity="0.65"/><circle cx="228.30" cy="51.90" r="0.85" fill="#767a2a"/>
<circle cx="230.90" cy="53.70" r="1.3" fill="#fff" fill-opacity="0.65"/><circle cx="230.90" cy="53.70" r="0.85" fill="#767a2a"/>
<circle cx="233.60" cy="54.50" r="1.3" fill="#fff" fill-opacity="0.65"/><circle cx="233.60" cy="54.50" r="0.85" fill="#3a1a14"/>
<circle cx="232.30" cy="57.20" r="1.3" fill="#fff" fill-opacity="0.65"/><circle cx="232.30" cy="57.20" r="0.85" fill="#767a2a"/>
<circle cx="229.10" cy="58.00" r="1.3" fill="#fff" fill-opacity="0.65"/><circle cx="229.10" cy="58.00" r="0.85" fill="#3a1a14"/>
<circle cx="238.90" cy="59.00" r="1.3" fill="#fff" fill-opacity="0.65"/><circle cx="238.90" cy="59.00" r="0.85" fill="#767a2a"/>
<circle cx="221.70" cy="61.70" r="1.3" fill="#fff" fill-opacity="0.65"/><circle cx="221.70" cy="61.70" r="0.85" fill="#767a2a"/>
<circle cx="225.70" cy="64.30" r="1.3" fill="#fff" fill-opacity="0.65"/><circle cx="225.70" cy="64.30" r="0.85" fill="#3a1a14"/>
<circle cx="228.30" cy="65.10" r="1.3" fill="#fff" fill-opacity="0.65"/><circle cx="228.30" cy="65.10" r="0.85" fill="#767a2a"/>
<circle cx="230.90" cy="66.40" r="1.3" fill="#fff" fill-opacity="0.65"/><circle cx="230.90" cy="66.40" r="0.85" fill="#3a1a14"/>
<circle cx="244.10" cy="66.40" r="1.3" fill="#fff" fill-opacity="0.65"/><circle cx="244.10" cy="66.40" r="0.85" fill="#767a2a"/>
<circle cx="228.30" cy="70.40" r="1.3" fill="#fff" fill-opacity="0.65"/><circle cx="228.30" cy="70.40" r="0.85" fill="#3a1a14"/>
<circle cx="212.50" cy="82.30" r="1.3" fill="#fff" fill-opacity="0.65"/><circle cx="212.50" cy="82.30" r="0.85" fill="#767a2a"/>
<circle cx="218.50" cy="80.10" r="1.3" fill="#fff" fill-opacity="0.65"/><circle cx="218.50" cy="80.10" r="0.85" fill="#767a2a"/>
<circle cx="222.20" cy="81.70" r="1.3" fill="#fff" fill-opacity="0.65"/><circle cx="222.20" cy="81.70" r="0.85" fill="#767a2a"/>
<circle cx="217.70" cy="87.00" r="1.3" fill="#fff" fill-opacity="0.65"/><circle cx="217.70" cy="87.00" r="0.85" fill="#3a1a14"/>
<circle cx="227.00" cy="88.30" r="1.3" fill="#fff" fill-opacity="0.65"/><circle cx="227.00" cy="88.30" r="0.85" fill="#767a2a"/>
<circle cx="229.60" cy="90.20" r="1.3" fill="#fff" fill-opacity="0.65"/><circle cx="229.60" cy="90.20" r="0.85" fill="#3a1a14"/>
<circle cx="223.00" cy="92.80" r="1.3" fill="#fff" fill-opacity="0.65"/><circle cx="223.00" cy="92.80" r="0.85" fill="#767a2a"/>
<circle cx="209.00" cy="96.00" r="1.3" fill="#fff" fill-opacity="0.65"/><circle cx="209.00" cy="96.00" r="0.85" fill="#767a2a"/>
<circle cx="225.70" cy="95.50" r="1.3" fill="#fff" fill-opacity="0.65"/><circle cx="225.70" cy="95.50" r="0.85" fill="#3a1a14"/>
<circle cx="263.80" cy="21.90" r="1.3" fill="#fff" fill-opacity="0.65"/><circle cx="263.80" cy="21.90" r="0.85" fill="#3a1a14"/>
<circle cx="271.20" cy="29.20" r="1.3" fill="#fff" fill-opacity="0.65"/><circle cx="271.20" cy="29.20" r="0.85" fill="#3a1a14"/>
<circle cx="261.90" cy="32.20" r="1.3" fill="#fff" fill-opacity="0.65"/><circle cx="261.90" cy="32.20" r="0.85" fill="#3a1a14"/>
<circle cx="264.30" cy="28.50" r="1.3" fill="#fff" fill-opacity="0.65"/><circle cx="264.30" cy="28.50" r="0.85" fill="#767a2a"/>
<circle cx="282.00" cy="34.60" r="1.3" fill="#fff" fill-opacity="0.65"/><circle cx="282.00" cy="34.60" r="0.85" fill="#3a1a14"/>
<circle cx="287.60" cy="43.90" r="1.3" fill="#fff" fill-opacity="0.65"/><circle cx="287.60" cy="43.90" r="0.85" fill="#3a1a14"/>
<circle cx="241.00" cy="34.60" r="1.3" fill="#fff" fill-opacity="0.65"/><circle cx="241.00" cy="34.60" r="0.85" fill="#767a2a"/>
<circle cx="249.60" cy="39.50" r="1.3" fill="#fff" fill-opacity="0.65"/><circle cx="249.60" cy="39.50" r="0.85" fill="#3a1a14"/>
<circle cx="254.50" cy="40.80" r="1.3" fill="#fff" fill-opacity="0.65"/><circle cx="254.50" cy="40.80" r="0.85" fill="#3a1a14"/>
<circle cx="250.80" cy="44.40" r="1.3" fill="#fff" fill-opacity="0.65"/><circle cx="250.80" cy="44.40" r="0.85" fill="#3a1a14"/>
<circle cx="236.10" cy="46.40" r="1.3" fill="#fff" fill-opacity="0.65"/><circle cx="236.10" cy="46.40" r="0.85" fill="#3a1a14"/>
<circle cx="254.50" cy="49.30" r="1.3" fill="#fff" fill-opacity="0.65"/><circle cx="254.50" cy="49.30" r="0.85" fill="#3a1a14"/>
<circle cx="258.90" cy="51.80" r="1.3" fill="#fff" fill-opacity="0.65"/><circle cx="258.90" cy="51.80" r="0.85" fill="#767a2a"/>
<circle cx="231.20" cy="54.20" r="1.3" fill="#fff" fill-opacity="0.65"/><circle cx="231.20" cy="54.20" r="0.85" fill="#767a2a"/>
<circle cx="233.70" cy="56.70" r="1.3" fill="#fff" fill-opacity="0.65"/><circle cx="233.70" cy="56.70" r="0.85" fill="#3a1a14"/>
<circle cx="239.80" cy="59.20" r="1.3" fill="#fff" fill-opacity="0.65"/><circle cx="239.80" cy="59.20" r="0.85" fill="#3a1a14"/>
<circle cx="242.30" cy="59.20" r="1.3" fill="#fff" fill-opacity="0.65"/><circle cx="242.30" cy="59.20" r="0.85" fill="#3a1a14"/>
<circle cx="261.90" cy="60.40" r="1.3" fill="#fff" fill-opacity="0.65"/><circle cx="261.90" cy="60.40" r="0.85" fill="#3a1a14"/>
<circle cx="268.00" cy="61.60" r="1.3" fill="#fff" fill-opacity="0.65"/><circle cx="268.00" cy="61.60" r="0.85" fill="#3a1a14"/>
<circle cx="257.00" cy="67.70" r="1.3" fill="#fff" fill-opacity="0.65"/><circle cx="257.00" cy="67.70" r="0.85" fill="#767a2a"/>
<circle cx="244.70" cy="66.50" r="1.3" fill="#fff" fill-opacity="0.65"/><circle cx="244.70" cy="66.50" r="0.85" fill="#767a2a"/>
<circle cx="231.20" cy="65.30" r="1.3" fill="#fff" fill-opacity="0.65"/><circle cx="231.20" cy="65.30" r="0.85" fill="#767a2a"/>
<circle cx="233.70" cy="67.70" r="1.3" fill="#fff" fill-opacity="0.65"/><circle cx="233.70" cy="67.70" r="0.85" fill="#767a2a"/>
<circle cx="252.10" cy="77.50" r="1.3" fill="#fff" fill-opacity="0.65"/><circle cx="252.10" cy="77.50" r="0.85" fill="#3a1a14"/>
<circle cx="271.20" cy="73.90" r="1.3" fill="#fff" fill-opacity="0.65"/><circle cx="271.20" cy="73.90" r="0.85" fill="#3a1a14"/>
<rect x="179.6" y="8.3" width="52.599999999999994" height="9.399999999999999" fill="#fff" stroke="#888" stroke-width="0.4"/>
<circle cx="186.6" cy="11.12" r="0.9" fill="#2a1410"/>
<circle cx="186.6" cy="14.97" r="0.9" fill="#6b7420"/>
<text transform="translate(192.90 12.17) scale(0.2900)" x="0" y="0" font-size="10" fill="#111" textLength="131.4" lengthAdjust="spacingAndGlyphs" text-rendering="geometricPrecision" stroke="#111" stroke-width="0.241">Left coordinate of Surgiplan</text>
<text transform="translate(192.90 16.02) scale(0.2900)" x="0" y="0" font-size="10" fill="#111" textLength="131.4" lengthAdjust="spacingAndGlyphs" text-rendering="geometricPrecision" stroke="#111" stroke-width="0.241">Left coordinate of Lead DBS</text>
<line x1="342.50" y1="6.60" x2="342.50" y2="112.00" stroke="#e4e4e4" stroke-width="0.35"/>
<line x1="359.33" y1="6.60" x2="359.33" y2="112.00" stroke="#e4e4e4" stroke-width="0.35"/>
<line x1="376.17" y1="6.60" x2="376.17" y2="112.00" stroke="#e4e4e4" stroke-width="0.35"/>
<line x1="393.00" y1="6.60" x2="393.00" y2="112.00" stroke="#e4e4e4" stroke-width="0.35"/>
<line x1="409.83" y1="6.60" x2="409.83" y2="112.00" stroke="#e4e4e4" stroke-width="0.35"/>
<line x1="426.67" y1="6.60" x2="426.67" y2="112.00" stroke="#e4e4e4" stroke-width="0.35"/>
<line x1="443.50" y1="6.60" x2="443.50" y2="112.00" stroke="#e4e4e4" stroke-width="0.35"/>
<line x1="326.50" y1="13.00" x2="451.00" y2="13.00" stroke="#e4e4e4" stroke-width="0.35"/>
<line x1="326.50" y1="29.80" x2="451.00" y2="29.80" stroke="#e4e4e4" stroke-width="0.35"/>
<line x1="326.50" y1="46.60" x2="451.00" y2="46.60" stroke="#e4e4e4" stroke-width="0.35"/>
<line x1="326.50" y1="63.40" x2="451.00" y2="63.40" stroke="#e4e4e4" stroke-width="0.35"/>
<line x1="326.50" y1="80.20" x2="451.00" y2="80.20" stroke="#e4e4e4" stroke-width="0.35"/>
<line x1="326.50" y1="97.00" x2="451.00" y2="97.00" stroke="#e4e4e4" stroke-width="0.35"/>
<rect x="326.5" y="6.6" width="124.5" height="105.4" fill="none" stroke="#8a8a8a" stroke-width="0.5"/>
<text x="342.90" y="116.20" font-size="3.1" text-anchor="middle" fill="#111" stroke="#222" stroke-width="0.08">-16</text>
<line x1="342.50" y1="112.00" x2="342.50" y2="111.00" stroke="#777" stroke-width="0.3"/>
<text x="359.73" y="116.20" font-size="3.1" text-anchor="middle" fill="#111" stroke="#222" stroke-width="0.08">-15</text>
<line x1="359.33" y1="112.00" x2="359.33" y2="111.00" stroke="#777" stroke-width="0.3"/>
<text x="376.57" y="116.20" font-size="3.1" text-anchor="middle" fill="#111" stroke="#222" stroke-width="0.08">-14</text>
<line x1="376.17" y1="112.00" x2="376.17" y2="111.00" stroke="#777" stroke-width="0.3"/>
<text x="393.40" y="116.20" font-size="3.1" text-anchor="middle" fill="#111" stroke="#222" stroke-width="0.08">-13</text>
<line x1="393.00" y1="112.00" x2="393.00" y2="111.00" stroke="#777" stroke-width="0.3"/>
<text x="410.23" y="116.20" font-size="3.1" text-anchor="middle" fill="#111" stroke="#222" stroke-width="0.08">-12</text>
<line x1="409.83" y1="112.00" x2="409.83" y2="111.00" stroke="#777" stroke-width="0.3"/>
<text x="427.07" y="116.20" font-size="3.1" text-anchor="middle" fill="#111" stroke="#222" stroke-width="0.08">-11</text>
<line x1="426.67" y1="112.00" x2="426.67" y2="111.00" stroke="#777" stroke-width="0.3"/>
<text x="443.90" y="116.20" font-size="3.1" text-anchor="middle" fill="#111" stroke="#222" stroke-width="0.08">-10</text>
<line x1="443.50" y1="112.00" x2="443.50" y2="111.00" stroke="#777" stroke-width="0.3"/>
<text x="325.30" y="14.90" font-size="3.1" text-anchor="end" fill="#111" stroke="#222" stroke-width="0.08">5</text>
<line x1="326.50" y1="13.00" x2="327.50" y2="13.00" stroke="#777" stroke-width="0.3"/>
<text x="325.30" y="31.70" font-size="3.1" text-anchor="end" fill="#111" stroke="#222" stroke-width="0.08">4</text>
<line x1="326.50" y1="29.80" x2="327.50" y2="29.80" stroke="#777" stroke-width="0.3"/>
<text x="325.30" y="48.50" font-size="3.1" text-anchor="end" fill="#111" stroke="#222" stroke-width="0.08">3</text>
<line x1="326.50" y1="46.60" x2="327.50" y2="46.60" stroke="#777" stroke-width="0.3"/>
<text x="325.30" y="65.30" font-size="3.1" text-anchor="end" fill="#111" stroke="#222" stroke-width="0.08">2</text>
<line x1="326.50" y1="63.40" x2="327.50" y2="63.40" stroke="#777" stroke-width="0.3"/>
<text x="325.30" y="82.10" font-size="3.1" text-anchor="end" fill="#111" stroke="#222" stroke-width="0.08">1</text>
<line x1="326.50" y1="80.20" x2="327.50" y2="80.20" stroke="#777" stroke-width="0.3"/>
<text x="325.30" y="98.90" font-size="3.1" text-anchor="end" fill="#111" stroke="#222" stroke-width="0.08">0</text>
<line x1="326.50" y1="97.00" x2="327.50" y2="97.00" stroke="#777" stroke-width="0.3"/>
<text x="388.75" y="121.60" font-size="5.5" text-anchor="middle" fill="#111" textLength="39.50" lengthAdjust="spacingAndGlyphs" stroke="#111" stroke-width="0.09">X coordinate (mm)</text>
<text x="324.00" y="59.30" font-size="5.5" text-anchor="middle" fill="#111" textLength="39.50" lengthAdjust="spacingAndGlyphs" transform="rotate(-90 324.00 59.30)" stroke="#111" stroke-width="0.09">Z coordinate (mm)</text>
<text x="322.50" y="130.90" font-size="11" text-anchor="middle" fill="#111" stroke="#111" stroke-width="0.05">C</text>
<ellipse cx="391.99" cy="56.58" rx="45.26" ry="27.80" transform="rotate(-56.28 391.99 56.58)" fill="url(#g9)" stroke="none" style="mix-blend-mode:multiply"/>
<ellipse cx="391.47" cy="61.80" rx="43.72" ry="32.05" transform="rotate(-62.76 391.47 61.80)" fill="url(#g10)" stroke="none" style="mix-blend-mode:multiply"/>
<ellipse cx="391.99" cy="56.58" rx="27.16" ry="16.68" transform="rotate(-56.28 391.99 56.58)" fill="url(#g11)"/>
<circle cx="412.10" cy="17.90" r="1.3" fill="#fff" fill-opacity="0.65"/><circle cx="412.10" cy="17.90" r="0.85" fill="#3a1a14"/>
<circle cx="423.00" cy="28.60" r="1.3" fill="#fff" fill-opacity="0.65"/><circle cx="423.00" cy="28.60" r="0.85" fill="#3a1a14"/>
<circle cx="393.10" cy="24.70" r="1.3" fill="#fff" fill-opacity="0.65"/><circle cx="393.10" cy="24.70" r="0.85" fill="#767a2a"/>
<circle cx="399.20" cy="25.90" r="1.3" fill="#fff" fill-opacity="0.65"/><circle cx="399.20" cy="25.90" r="0.85" fill="#3a1a14"/>
<circle cx="389.00" cy="31.50" r="1.3" fill="#fff" fill-opacity="0.65"/><circle cx="389.00" cy="31.50" r="0.85" fill="#767a2a"/>
<circle cx="398.10" cy="31.50" r="1.3" fill="#fff" fill-opacity="0.65"/><circle cx="398.10" cy="31.50" r="0.85" fill="#3a1a14"/>
<circle cx="412.80" cy="36.70" r="1.3" fill="#fff" fill-opacity="0.65"/><circle cx="412.80" cy="36.70" r="0.85" fill="#3a1a14"/>
<circle cx="413.50" cy="38.30" r="1.3" fill="#fff" fill-opacity="0.65"/><circle cx="413.50" cy="38.30" r="0.85" fill="#3a1a14"/>
<circle cx="374.30" cy="40.60" r="1.3" fill="#fff" fill-opacity="0.65"/><circle cx="374.30" cy="40.60" r="0.85" fill="#3a1a14"/>
<circle cx="401.50" cy="40.60" r="1.3" fill="#fff" fill-opacity="0.65"/><circle cx="401.50" cy="40.60" r="0.85" fill="#3a1a14"/>
<circle cx="390.80" cy="43.50" r="1.3" fill="#fff" fill-opacity="0.65"/><circle cx="390.80" cy="43.50" r="0.85" fill="#3a1a14"/>
<circle cx="396.20" cy="45.80" r="1.3" fill="#fff" fill-opacity="0.65"/><circle cx="396.20" cy="45.80" r="0.85" fill="#3a1a14"/>
<circle cx="389.00" cy="48.10" r="1.3" fill="#fff" fill-opacity="0.65"/><circle cx="389.00" cy="48.10" r="0.85" fill="#767a2a"/>
<circle cx="402.60" cy="50.30" r="1.3" fill="#fff" fill-opacity="0.65"/><circle cx="402.60" cy="50.30" r="0.85" fill="#767a2a"/>
<circle cx="408.30" cy="49.70" r="1.3" fill="#fff" fill-opacity="0.65"/><circle cx="408.30" cy="49.70" r="0.85" fill="#767a2a"/>
<circle cx="419.60" cy="50.30" r="1.3" fill="#fff" fill-opacity="0.65"/><circle cx="419.60" cy="50.30" r="0.85" fill="#767a2a"/>
<circle cx="372.70" cy="51.90" r="1.3" fill="#fff" fill-opacity="0.65"/><circle cx="372.70" cy="51.90" r="0.85" fill="#3a1a14"/>
<circle cx="375.80" cy="52.60" r="1.3" fill="#fff" fill-opacity="0.65"/><circle cx="375.80" cy="52.60" r="0.85" fill="#767a2a"/>
<circle cx="392.40" cy="54.90" r="1.3" fill="#fff" fill-opacity="0.65"/><circle cx="392.40" cy="54.90" r="0.85" fill="#3a1a14"/>
<circle cx="379.90" cy="56.50" r="1.3" fill="#fff" fill-opacity="0.65"/><circle cx="379.90" cy="56.50" r="0.85" fill="#3a1a14"/>
<circle cx="407.60" cy="54.20" r="1.3" fill="#fff" fill-opacity="0.65"/><circle cx="407.60" cy="54.20" r="0.85" fill="#767a2a"/>
<circle cx="416.60" cy="54.90" r="1.3" fill="#fff" fill-opacity="0.65"/><circle cx="416.60" cy="54.90" r="0.85" fill="#3a1a14"/>
<circle cx="409.40" cy="57.10" r="1.3" fill="#fff" fill-opacity="0.65"/><circle cx="409.40" cy="57.10" r="0.85" fill="#3a1a14"/>
<circle cx="358.40" cy="59.40" r="1.3" fill="#fff" fill-opacity="0.65"/><circle cx="358.40" cy="59.40" r="0.85" fill="#3a1a14"/>
<circle cx="364.50" cy="58.70" r="1.3" fill="#fff" fill-opacity="0.65"/><circle cx="364.50" cy="58.70" r="0.85" fill="#767a2a"/>
<circle cx="385.60" cy="58.30" r="1.3" fill="#fff" fill-opacity="0.65"/><circle cx="385.60" cy="58.30" r="0.85" fill="#3a1a14"/>
<circle cx="395.30" cy="58.70" r="1.3" fill="#fff" fill-opacity="0.65"/><circle cx="395.30" cy="58.70" r="0.85" fill="#3a1a14"/>
<circle cx="402.60" cy="61.70" r="1.3" fill="#fff" fill-opacity="0.65"/><circle cx="402.60" cy="61.70" r="0.85" fill="#767a2a"/>
<circle cx="406.00" cy="62.60" r="1.3" fill="#fff" fill-opacity="0.65"/><circle cx="406.00" cy="62.60" r="0.85" fill="#3a1a14"/>
<circle cx="384.50" cy="62.10" r="1.3" fill="#fff" fill-opacity="0.65"/><circle cx="384.50" cy="62.10" r="0.85" fill="#767a2a"/>
<circle cx="373.10" cy="64.80" r="1.3" fill="#fff" fill-opacity="0.65"/><circle cx="373.10" cy="64.80" r="0.85" fill="#767a2a"/>
<circle cx="375.40" cy="65.50" r="1.3" fill="#fff" fill-opacity="0.65"/><circle cx="375.40" cy="65.50" r="0.85" fill="#767a2a"/>
<circle cx="391.30" cy="66.20" r="1.3" fill="#fff" fill-opacity="0.65"/><circle cx="391.30" cy="66.20" r="0.85" fill="#3a1a14"/>
<circle cx="400.30" cy="65.50" r="1.3" fill="#fff" fill-opacity="0.65"/><circle cx="400.30" cy="65.50" r="0.85" fill="#767a2a"/>
<circle cx="412.80" cy="66.20" r="1.3" fill="#fff" fill-opacity="0.65"/><circle cx="412.80" cy="66.20" r="0.85" fill="#3a1a14"/>
<circle cx="414.40" cy="64.80" r="1.3" fill="#fff" fill-opacity="0.65"/><circle cx="414.40" cy="64.80" r="0.85" fill="#3a1a14"/>
<circle cx="422.50" cy="63.90" r="1.3" fill="#fff" fill-opacity="0.65"/><circle cx="422.50" cy="63.90" r="0.85" fill="#767a2a"/>
<circle cx="388.50" cy="67.20" r="1.3" fill="#fff" fill-opacity="0.65"/><circle cx="388.50" cy="67.20" r="0.85" fill="#767a2a"/>
<circle cx="416.80" cy="67.90" r="1.3" fill="#fff" fill-opacity="0.65"/><circle cx="416.80" cy="67.90" r="0.85" fill="#767a2a"/>
<circle cx="362.50" cy="79.80" r="1.3" fill="#fff" fill-opacity="0.65"/><circle cx="362.50" cy="79.80" r="0.85" fill="#767a2a"/>
<circle cx="377.60" cy="78.80" r="1.3" fill="#fff" fill-opacity="0.65"/><circle cx="377.60" cy="78.80" r="0.85" fill="#767a2a"/>
<circle cx="381.80" cy="75.50" r="1.3" fill="#fff" fill-opacity="0.65"/><circle cx="381.80" cy="75.50" r="0.85" fill="#3a1a14"/>
<circle cx="397.40" cy="78.80" r="1.3" fill="#fff" fill-opacity="0.65"/><circle cx="397.40" cy="78.80" r="0.85" fill="#767a2a"/>
<circle cx="379.10" cy="84.50" r="1.3" fill="#fff" fill-opacity="0.65"/><circle cx="379.10" cy="84.50" r="0.85" fill="#3a1a14"/>
<circle cx="378.00" cy="87.30" r="1.3" fill="#fff" fill-opacity="0.65"/><circle cx="378.00" cy="87.30" r="0.85" fill="#767a2a"/>
<circle cx="400.20" cy="86.00" r="1.3" fill="#fff" fill-opacity="0.65"/><circle cx="400.20" cy="86.00" r="0.85" fill="#767a2a"/>
<circle cx="369.10" cy="91.70" r="1.3" fill="#fff" fill-opacity="0.65"/><circle cx="369.10" cy="91.70" r="0.85" fill="#767a2a"/>
<circle cx="384.80" cy="91.70" r="1.3" fill="#fff" fill-opacity="0.65"/><circle cx="384.80" cy="91.70" r="0.85" fill="#767a2a"/>
<circle cx="388.00" cy="94.30" r="1.3" fill="#fff" fill-opacity="0.65"/><circle cx="388.00" cy="94.30" r="0.85" fill="#3a1a14"/>
<circle cx="391.20" cy="94.50" r="1.3" fill="#fff" fill-opacity="0.65"/><circle cx="391.20" cy="94.50" r="0.85" fill="#767a2a"/>
<circle cx="405.90" cy="62.30" r="1.3" fill="#fff" fill-opacity="0.65"/><circle cx="405.90" cy="62.30" r="0.85" fill="#3a1a14"/>
<circle cx="403.00" cy="63.80" r="1.3" fill="#fff" fill-opacity="0.65"/><circle cx="403.00" cy="63.80" r="0.85" fill="#767a2a"/>
<rect x="328.8" y="8.8" width="52.39999999999998" height="8.399999999999999" fill="#fff" stroke="#888" stroke-width="0.4"/>
<circle cx="335.4" cy="11.32" r="0.9" fill="#2a1410"/>
<circle cx="335.4" cy="14.76" r="0.9" fill="#6b7420"/>
<text transform="translate(341.90 12.37) scale(0.2900)" x="0" y="0" font-size="10" fill="#111" textLength="131.4" lengthAdjust="spacingAndGlyphs" text-rendering="geometricPrecision" stroke="#111" stroke-width="0.241">Left coordinate of Surgiplan</text>
<text transform="translate(341.90 15.81) scale(0.2900)" x="0" y="0" font-size="10" fill="#111" textLength="131.4" lengthAdjust="spacingAndGlyphs" text-rendering="geometricPrecision" stroke="#111" stroke-width="0.241">Left coordinate of Lead DBS</text>
<line x1="478.00" y1="5.80" x2="478.00" y2="111.70" stroke="#e4e4e4" stroke-width="0.35"/>
<line x1="493.12" y1="5.80" x2="493.12" y2="111.70" stroke="#e4e4e4" stroke-width="0.35"/>
<line x1="508.25" y1="5.80" x2="508.25" y2="111.70" stroke="#e4e4e4" stroke-width="0.35"/>
<line x1="523.38" y1="5.80" x2="523.38" y2="111.70" stroke="#e4e4e4" stroke-width="0.35"/>
<line x1="538.50" y1="5.80" x2="538.50" y2="111.70" stroke="#e4e4e4" stroke-width="0.35"/>
<line x1="472.00" y1="9.50" x2="544.00" y2="9.50" stroke="#e4e4e4" stroke-width="0.35"/>
<line x1="472.00" y1="24.10" x2="544.00" y2="24.10" stroke="#e4e4e4" stroke-width="0.35"/>
<line x1="472.00" y1="38.70" x2="544.00" y2="38.70" stroke="#e4e4e4" stroke-width="0.35"/>
<line x1="472.00" y1="53.30" x2="544.00" y2="53.30" stroke="#e4e4e4" stroke-width="0.35"/>
<line x1="472.00" y1="67.90" x2="544.00" y2="67.90" stroke="#e4e4e4" stroke-width="0.35"/>
<line x1="472.00" y1="82.50" x2="544.00" y2="82.50" stroke="#e4e4e4" stroke-width="0.35"/>
<line x1="472.00" y1="97.10" x2="544.00" y2="97.10" stroke="#e4e4e4" stroke-width="0.35"/>
<rect x="472" y="5.8" width="72" height="105.9" fill="none" stroke="#8a8a8a" stroke-width="0.5"/>
<text x="478.40" y="115.90" font-size="3.1" text-anchor="middle" fill="#111" stroke="#222" stroke-width="0.08">-14</text>
<line x1="478.00" y1="111.70" x2="478.00" y2="110.70" stroke="#777" stroke-width="0.3"/>
<text x="493.52" y="115.90" font-size="3.1" text-anchor="middle" fill="#111" stroke="#222" stroke-width="0.08">-13</text>
<line x1="493.12" y1="111.70" x2="493.12" y2="110.70" stroke="#777" stroke-width="0.3"/>
<text x="508.65" y="115.90" font-size="3.1" text-anchor="middle" fill="#111" stroke="#222" stroke-width="0.08">-12</text>
<line x1="508.25" y1="111.70" x2="508.25" y2="110.70" stroke="#777" stroke-width="0.3"/>
<text x="523.77" y="115.90" font-size="3.1" text-anchor="middle" fill="#111" stroke="#222" stroke-width="0.08">-11</text>
<line x1="523.38" y1="111.70" x2="523.38" y2="110.70" stroke="#777" stroke-width="0.3"/>
<text x="538.90" y="115.90" font-size="3.1" text-anchor="middle" fill="#111" stroke="#222" stroke-width="0.08">-10</text>
<line x1="538.50" y1="111.70" x2="538.50" y2="110.70" stroke="#777" stroke-width="0.3"/>
<text x="470.80" y="11.40" font-size="3.1" text-anchor="end" fill="#111" stroke="#222" stroke-width="0.08">14</text>
<line x1="472.00" y1="9.50" x2="473.00" y2="9.50" stroke="#777" stroke-width="0.3"/>
<text x="470.80" y="26.00" font-size="3.1" text-anchor="end" fill="#111" stroke="#222" stroke-width="0.08">13</text>
<line x1="472.00" y1="24.10" x2="473.00" y2="24.10" stroke="#777" stroke-width="0.3"/>
<text x="470.80" y="40.60" font-size="3.1" text-anchor="end" fill="#111" stroke="#222" stroke-width="0.08">12</text>
<line x1="472.00" y1="38.70" x2="473.00" y2="38.70" stroke="#777" stroke-width="0.3"/>
<text x="470.80" y="55.20" font-size="3.1" text-anchor="end" fill="#111" stroke="#222" stroke-width="0.08">11</text>
<line x1="472.00" y1="53.30" x2="473.00" y2="53.30" stroke="#777" stroke-width="0.3"/>
<text x="470.80" y="69.80" font-size="3.1" text-anchor="end" fill="#111" stroke="#222" stroke-width="0.08">10</text>
<line x1="472.00" y1="67.90" x2="473.00" y2="67.90" stroke="#777" stroke-width="0.3"/>
<text x="470.80" y="84.40" font-size="3.1" text-anchor="end" fill="#111" stroke="#222" stroke-width="0.08">9</text>
<line x1="472.00" y1="82.50" x2="473.00" y2="82.50" stroke="#777" stroke-width="0.3"/>
<text x="470.80" y="99.00" font-size="3.1" text-anchor="end" fill="#111" stroke="#222" stroke-width="0.08">8</text>
<line x1="472.00" y1="97.10" x2="473.00" y2="97.10" stroke="#777" stroke-width="0.3"/>
<text x="470.80" y="113.60" font-size="3.1" text-anchor="end" fill="#111" stroke="#222" stroke-width="0.08">7</text>
<line x1="472.00" y1="111.70" x2="473.00" y2="111.70" stroke="#777" stroke-width="0.3"/>
<text x="507.85" y="121.60" font-size="5.5" text-anchor="middle" fill="#111" textLength="39.70" lengthAdjust="spacingAndGlyphs" stroke="#111" stroke-width="0.09">X coordinate (mm)</text>
<text x="466.00" y="58.75" font-size="5.5" text-anchor="middle" fill="#111" textLength="39.50" lengthAdjust="spacingAndGlyphs" transform="rotate(-90 466.00 58.75)" stroke="#111" stroke-width="0.09">Y coordinate (mm)</text>
<text x="464.50" y="130.90" font-size="11" text-anchor="middle" fill="#111" stroke="#111" stroke-width="0.05">D</text>
<ellipse cx="506.47" cy="59.46" rx="46.94" ry="23.64" transform="rotate(-117.02 506.47 59.46)" fill="url(#g12)" stroke="none" style="mix-blend-mode:multiply"/>
<ellipse cx="509.91" cy="54.65" rx="35.55" ry="27.35" transform="rotate(-122.11 509.91 54.65)" fill="url(#g13)" stroke="none" style="mix-blend-mode:multiply"/>
<ellipse cx="509.91" cy="54.65" rx="21.33" ry="16.41" transform="rotate(-122.11 509.91 54.65)" fill="url(#g14)"/>
<circle cx="504.80" cy="22.50" r="1.3" fill="#fff" fill-opacity="0.65"/><circle cx="504.80" cy="22.50" r="0.85" fill="#767a2a"/>
<circle cx="508.60" cy="23.50" r="1.3" fill="#fff" fill-opacity="0.65"/><circle cx="508.60" cy="23.50" r="0.85" fill="#3a1a14"/>
<circle cx="507.50" cy="32.90" r="1.3" fill="#fff" fill-opacity="0.65"/><circle cx="507.50" cy="32.90" r="0.85" fill="#767a2a"/>
<circle cx="482.50" cy="36.70" r="1.3" fill="#fff" fill-opacity="0.65"/><circle cx="482.50" cy="36.70" r="0.85" fill="#767a2a"/>
<circle cx="496.70" cy="40.50" r="1.3" fill="#fff" fill-opacity="0.65"/><circle cx="496.70" cy="40.50" r="0.85" fill="#3a1a14"/>
<circle cx="512.70" cy="41.40" r="1.3" fill="#fff" fill-opacity="0.65"/><circle cx="512.70" cy="41.40" r="0.85" fill="#767a2a"/>
<circle cx="484.40" cy="43.30" r="1.3" fill="#fff" fill-opacity="0.65"/><circle cx="484.40" cy="43.30" r="0.85" fill="#767a2a"/>
<circle cx="488.60" cy="44.20" r="1.3" fill="#fff" fill-opacity="0.65"/><circle cx="488.60" cy="44.20" r="0.85" fill="#767a2a"/>
<circle cx="495.40" cy="44.20" r="1.3" fill="#fff" fill-opacity="0.65"/><circle cx="495.40" cy="44.20" r="0.85" fill="#767a2a"/>
<circle cx="502.40" cy="47.50" r="1.3" fill="#fff" fill-opacity="0.65"/><circle cx="502.40" cy="47.50" r="0.85" fill="#3a1a14"/>
<circle cx="504.20" cy="47.50" r="1.3" fill="#fff" fill-opacity="0.65"/><circle cx="504.20" cy="47.50" r="0.85" fill="#3a1a14"/>
<circle cx="506.10" cy="49.30" r="1.3" fill="#fff" fill-opacity="0.65"/><circle cx="506.10" cy="49.30" r="0.85" fill="#767a2a"/>
<circle cx="479.20" cy="49.90" r="1.3" fill="#fff" fill-opacity="0.65"/><circle cx="479.20" cy="49.90" r="0.85" fill="#3a1a14"/>
<circle cx="514.60" cy="48.60" r="1.3" fill="#fff" fill-opacity="0.65"/><circle cx="514.60" cy="48.60" r="0.85" fill="#767a2a"/>
<circle cx="515.60" cy="51.20" r="1.3" fill="#fff" fill-opacity="0.65"/><circle cx="515.60" cy="51.20" r="0.85" fill="#767a2a"/>
<circle cx="519.90" cy="49.90" r="1.3" fill="#fff" fill-opacity="0.65"/><circle cx="519.90" cy="49.90" r="0.85" fill="#3a1a14"/>
<circle cx="521.20" cy="50.80" r="1.3" fill="#fff" fill-opacity="0.65"/><circle cx="521.20" cy="50.80" r="0.85" fill="#767a2a"/>
<circle cx="529.70" cy="49.90" r="1.3" fill="#fff" fill-opacity="0.65"/><circle cx="529.70" cy="49.90" r="0.85" fill="#3a1a14"/>
<circle cx="535.00" cy="49.00" r="1.3" fill="#fff" fill-opacity="0.65"/><circle cx="535.00" cy="49.00" r="0.85" fill="#767a2a"/>
<circle cx="493.90" cy="49.90" r="1.3" fill="#fff" fill-opacity="0.65"/><circle cx="493.90" cy="49.90" r="0.85" fill="#767a2a"/>
<circle cx="495.40" cy="51.20" r="1.3" fill="#fff" fill-opacity="0.65"/><circle cx="495.40" cy="51.20" r="0.85" fill="#767a2a"/>
<circle cx="491.00" cy="52.70" r="1.3" fill="#fff" fill-opacity="0.65"/><circle cx="491.00" cy="52.70" r="0.85" fill="#3a1a14"/>
<circle cx="492.90" cy="54.20" r="1.3" fill="#fff" fill-opacity="0.65"/><circle cx="492.90" cy="54.20" r="0.85" fill="#767a2a"/>
<circle cx="529.70" cy="52.70" r="1.3" fill="#fff" fill-opacity="0.65"/><circle cx="529.70" cy="52.70" r="0.85" fill="#767a2a"/>
<circle cx="532.50" cy="53.70" r="1.3" fill="#fff" fill-opacity="0.65"/><circle cx="532.50" cy="53.70" r="0.85" fill="#767a2a"/>
<circle cx="526.90" cy="54.60" r="1.3" fill="#fff" fill-opacity="0.65"/><circle cx="526.90" cy="54.60" r="0.85" fill="#3a1a14"/>
<circle cx="507.50" cy="55.60" r="1.3" fill="#fff" fill-opacity="0.65"/><circle cx="507.50" cy="55.60" r="0.85" fill="#3a1a14"/>
<circle cx="506.70" cy="56.50" r="1.3" fill="#fff" fill-opacity="0.65"/><circle cx="506.70" cy="56.50" r="0.85" fill="#3a1a14"/>
<circle cx="517.50" cy="56.50" r="1.3" fill="#fff" fill-opacity="0.65"/><circle cx="517.50" cy="56.50" r="0.85" fill="#767a2a"/>
<circle cx="497.30" cy="61.20" r="1.3" fill="#fff" fill-opacity="0.65"/><circle cx="497.30" cy="61.20" r="0.85" fill="#3a1a14"/>
<circle cx="505.60" cy="60.30" r="1.3" fill="#fff" fill-opacity="0.65"/><circle cx="505.60" cy="60.30" r="0.85" fill="#767a2a"/>
<circle cx="523.10" cy="59.90" r="1.3" fill="#fff" fill-opacity="0.65"/><circle cx="523.10" cy="59.90" r="0.85" fill="#3a1a14"/>
<circle cx="517.50" cy="63.10" r="1.3" fill="#fff" fill-opacity="0.65"/><circle cx="517.50" cy="63.10" r="0.85" fill="#767a2a"/>
<circle cx="501.40" cy="67.20" r="1.3" fill="#fff" fill-opacity="0.65"/><circle cx="501.40" cy="67.20" r="0.85" fill="#767a2a"/>
<circle cx="492.40" cy="69.40" r="1.3" fill="#fff" fill-opacity="0.65"/><circle cx="492.40" cy="69.40" r="0.85" fill="#3a1a14"/>
<circle cx="499.20" cy="71.30" r="1.3" fill="#fff" fill-opacity="0.65"/><circle cx="499.20" cy="71.30" r="0.85" fill="#3a1a14"/>
<circle cx="525.90" cy="68.50" r="1.3" fill="#fff" fill-opacity="0.65"/><circle cx="525.90" cy="68.50" r="0.85" fill="#3a1a14"/>
<circle cx="492.40" cy="74.70" r="1.3" fill="#fff" fill-opacity="0.65"/><circle cx="492.40" cy="74.70" r="0.85" fill="#767a2a"/>
<circle cx="511.80" cy="72.30" r="1.3" fill="#fff" fill-opacity="0.65"/><circle cx="511.80" cy="72.30" r="0.85" fill="#3a1a14"/>
<circle cx="525.60" cy="72.80" r="1.3" fill="#fff" fill-opacity="0.65"/><circle cx="525.60" cy="72.80" r="0.85" fill="#3a1a14"/>
<circle cx="525.60" cy="74.70" r="1.3" fill="#fff" fill-opacity="0.65"/><circle cx="525.60" cy="74.70" r="0.85" fill="#3a1a14"/>
<circle cx="515.00" cy="75.50" r="1.3" fill="#fff" fill-opacity="0.65"/><circle cx="515.00" cy="75.50" r="0.85" fill="#767a2a"/>
<circle cx="522.20" cy="76.00" r="1.3" fill="#fff" fill-opacity="0.65"/><circle cx="522.20" cy="76.00" r="0.85" fill="#767a2a"/>
<circle cx="502.90" cy="78.50" r="1.3" fill="#fff" fill-opacity="0.65"/><circle cx="502.90" cy="78.50" r="0.85" fill="#3a1a14"/>
<circle cx="508.60" cy="81.10" r="1.3" fill="#fff" fill-opacity="0.65"/><circle cx="508.60" cy="81.10" r="0.85" fill="#767a2a"/>
<circle cx="525.60" cy="80.80" r="1.3" fill="#fff" fill-opacity="0.65"/><circle cx="525.60" cy="80.80" r="0.85" fill="#3a1a14"/>
<circle cx="535.00" cy="78.90" r="1.3" fill="#fff" fill-opacity="0.65"/><circle cx="535.00" cy="78.90" r="0.85" fill="#3a1a14"/>
<circle cx="510.80" cy="84.20" r="1.3" fill="#fff" fill-opacity="0.65"/><circle cx="510.80" cy="84.20" r="0.85" fill="#3a1a14"/>
<circle cx="514.20" cy="87.40" r="1.3" fill="#fff" fill-opacity="0.65"/><circle cx="514.20" cy="87.40" r="0.85" fill="#3a1a14"/>
<circle cx="513.70" cy="96.20" r="1.3" fill="#fff" fill-opacity="0.65"/><circle cx="513.70" cy="96.20" r="0.85" fill="#3a1a14"/>
<circle cx="516.10" cy="101.10" r="1.3" fill="#fff" fill-opacity="0.65"/><circle cx="516.10" cy="101.10" r="0.85" fill="#3a1a14"/>
<rect x="472.5" y="6.2" width="52.5" height="10.8" fill="#fff" stroke="#888" stroke-width="0.4"/>
<circle cx="478.5" cy="9.44" r="0.9" fill="#2a1410"/>
<circle cx="478.5" cy="13.87" r="0.9" fill="#6b7420"/>
<text transform="translate(484.50 10.49) scale(0.2900)" x="0" y="0" font-size="10" fill="#111" textLength="135.5" lengthAdjust="spacingAndGlyphs" text-rendering="geometricPrecision" stroke="#111" stroke-width="0.241">Left coordinate of Surgiplan</text>
<text transform="translate(484.50 14.92) scale(0.2900)" x="0" y="0" font-size="10" fill="#111" textLength="135.5" lengthAdjust="spacingAndGlyphs" text-rendering="geometricPrecision" stroke="#111" stroke-width="0.241">Left coordinate of Lead DBS</text>
<line x1="182.30" y1="136.60" x2="182.30" y2="239.00" stroke="#e4e4e4" stroke-width="0.35"/>
<line x1="195.04" y1="136.60" x2="195.04" y2="239.00" stroke="#e4e4e4" stroke-width="0.35"/>
<line x1="207.79" y1="136.60" x2="207.79" y2="239.00" stroke="#e4e4e4" stroke-width="0.35"/>
<line x1="220.53" y1="136.60" x2="220.53" y2="239.00" stroke="#e4e4e4" stroke-width="0.35"/>
<line x1="233.28" y1="136.60" x2="233.28" y2="239.00" stroke="#e4e4e4" stroke-width="0.35"/>
<line x1="246.02" y1="136.60" x2="246.02" y2="239.00" stroke="#e4e4e4" stroke-width="0.35"/>
<line x1="258.77" y1="136.60" x2="258.77" y2="239.00" stroke="#e4e4e4" stroke-width="0.35"/>
<line x1="271.51" y1="136.60" x2="271.51" y2="239.00" stroke="#e4e4e4" stroke-width="0.35"/>
<line x1="284.26" y1="136.60" x2="284.26" y2="239.00" stroke="#e4e4e4" stroke-width="0.35"/>
<line x1="297.00" y1="136.60" x2="297.00" y2="239.00" stroke="#e4e4e4" stroke-width="0.35"/>
<line x1="172.40" y1="147.60" x2="304.50" y2="147.60" stroke="#e4e4e4" stroke-width="0.35"/>
<line x1="172.40" y1="160.37" x2="304.50" y2="160.37" stroke="#e4e4e4" stroke-width="0.35"/>
<line x1="172.40" y1="173.14" x2="304.50" y2="173.14" stroke="#e4e4e4" stroke-width="0.35"/>
<line x1="172.40" y1="185.91" x2="304.50" y2="185.91" stroke="#e4e4e4" stroke-width="0.35"/>
<line x1="172.40" y1="198.69" x2="304.50" y2="198.69" stroke="#e4e4e4" stroke-width="0.35"/>
<line x1="172.40" y1="211.46" x2="304.50" y2="211.46" stroke="#e4e4e4" stroke-width="0.35"/>
<line x1="172.40" y1="224.23" x2="304.50" y2="224.23" stroke="#e4e4e4" stroke-width="0.35"/>
<line x1="172.40" y1="237.00" x2="304.50" y2="237.00" stroke="#e4e4e4" stroke-width="0.35"/>
<rect x="172.4" y="136.6" width="132.1" height="102.4" fill="none" stroke="#8a8a8a" stroke-width="0.5"/>
<text x="182.70" y="243.20" font-size="3.1" text-anchor="middle" fill="#111" stroke="#222" stroke-width="0.08">6</text>
<line x1="182.30" y1="239.00" x2="182.30" y2="238.00" stroke="#777" stroke-width="0.3"/>
<text x="195.44" y="243.20" font-size="3.1" text-anchor="middle" fill="#111" stroke="#222" stroke-width="0.08">7</text>
<line x1="195.04" y1="239.00" x2="195.04" y2="238.00" stroke="#777" stroke-width="0.3"/>
<text x="208.19" y="243.20" font-size="3.1" text-anchor="middle" fill="#111" stroke="#222" stroke-width="0.08">8</text>
<line x1="207.79" y1="239.00" x2="207.79" y2="238.00" stroke="#777" stroke-width="0.3"/>
<text x="220.93" y="243.20" font-size="3.1" text-anchor="middle" fill="#111" stroke="#222" stroke-width="0.08">9</text>
<line x1="220.53" y1="239.00" x2="220.53" y2="238.00" stroke="#777" stroke-width="0.3"/>
<text x="233.68" y="243.20" font-size="3.1" text-anchor="middle" fill="#111" stroke="#222" stroke-width="0.08">10</text>
<line x1="233.28" y1="239.00" x2="233.28" y2="238.00" stroke="#777" stroke-width="0.3"/>
<text x="246.42" y="243.20" font-size="3.1" text-anchor="middle" fill="#111" stroke="#222" stroke-width="0.08">11</text>
<line x1="246.02" y1="239.00" x2="246.02" y2="238.00" stroke="#777" stroke-width="0.3"/>
<text x="259.17" y="243.20" font-size="3.1" text-anchor="middle" fill="#111" stroke="#222" stroke-width="0.08">12</text>
<line x1="258.77" y1="239.00" x2="258.77" y2="238.00" stroke="#777" stroke-width="0.3"/>
<text x="271.91" y="243.20" font-size="3.1" text-anchor="middle" fill="#111" stroke="#222" stroke-width="0.08">13</text>
<line x1="271.51" y1="239.00" x2="271.51" y2="238.00" stroke="#777" stroke-width="0.3"/>
<text x="284.66" y="243.20" font-size="3.1" text-anchor="middle" fill="#111" stroke="#222" stroke-width="0.08">14</text>
<line x1="284.26" y1="239.00" x2="284.26" y2="238.00" stroke="#777" stroke-width="0.3"/>
<text x="297.40" y="243.20" font-size="3.1" text-anchor="middle" fill="#111" stroke="#222" stroke-width="0.08">15</text>
<line x1="297.00" y1="239.00" x2="297.00" y2="238.00" stroke="#777" stroke-width="0.3"/>
<text x="171.20" y="149.50" font-size="3.1" text-anchor="end" fill="#111" stroke="#222" stroke-width="0.08">6</text>
<line x1="172.40" y1="147.60" x2="173.40" y2="147.60" stroke="#777" stroke-width="0.3"/>
<text x="171.20" y="162.27" font-size="3.1" text-anchor="end" fill="#111" stroke="#222" stroke-width="0.08">5</text>
<line x1="172.40" y1="160.37" x2="173.40" y2="160.37" stroke="#777" stroke-width="0.3"/>
<text x="171.20" y="175.04" font-size="3.1" text-anchor="end" fill="#111" stroke="#222" stroke-width="0.08">4</text>
<line x1="172.40" y1="173.14" x2="173.40" y2="173.14" stroke="#777" stroke-width="0.3"/>
<text x="171.20" y="187.81" font-size="3.1" text-anchor="end" fill="#111" stroke="#222" stroke-width="0.08">3</text>
<line x1="172.40" y1="185.91" x2="173.40" y2="185.91" stroke="#777" stroke-width="0.3"/>
<text x="171.20" y="200.59" font-size="3.1" text-anchor="end" fill="#111" stroke="#222" stroke-width="0.08">2</text>
<line x1="172.40" y1="198.69" x2="173.40" y2="198.69" stroke="#777" stroke-width="0.3"/>
<text x="171.20" y="213.36" font-size="3.1" text-anchor="end" fill="#111" stroke="#222" stroke-width="0.08">1</text>
<line x1="172.40" y1="211.46" x2="173.40" y2="211.46" stroke="#777" stroke-width="0.3"/>
<text x="171.20" y="226.13" font-size="3.1" text-anchor="end" fill="#111" stroke="#222" stroke-width="0.08">0</text>
<line x1="172.40" y1="224.23" x2="173.40" y2="224.23" stroke="#777" stroke-width="0.3"/>
<text x="171.20" y="238.90" font-size="3.1" text-anchor="end" fill="#111" stroke="#222" stroke-width="0.08">-1</text>
<line x1="172.40" y1="237.00" x2="173.40" y2="237.00" stroke="#777" stroke-width="0.3"/>
<text x="239.00" y="247.80" font-size="5.5" text-anchor="middle" fill="#111" textLength="38.00" lengthAdjust="spacingAndGlyphs" stroke="#111" stroke-width="0.09">Y coordinate (mm)</text>
<text x="169.00" y="187.80" font-size="5.5" text-anchor="middle" fill="#111" textLength="39.50" lengthAdjust="spacingAndGlyphs" transform="rotate(-90 169.00 187.80)" stroke="#111" stroke-width="0.09">Z coordinate (mm)</text>
<text x="170.30" y="257.90" font-size="11" text-anchor="middle" fill="#111" stroke="#111" stroke-width="0.05">F</text>
<ellipse cx="234.11" cy="180.00" rx="43.89" ry="21.18" transform="rotate(-161.19 234.11 180.00)" fill="url(#g15)" stroke="none" style="mix-blend-mode:multiply"/>
<ellipse cx="255.19" cy="189.13" rx="45.69" ry="24.87" transform="rotate(-130.86 255.19 189.13)" fill="url(#g16)" stroke="none" style="mix-blend-mode:multiply"/>
<circle cx="213.20" cy="155.40" r="1.3" fill="#fff" fill-opacity="0.65"/><circle cx="213.20" cy="155.40" r="0.85" fill="#3a1a14"/>
<circle cx="204.60" cy="161.00" r="1.3" fill="#fff" fill-opacity="0.65"/><circle cx="204.60" cy="161.00" r="0.85" fill="#3a1a14"/>
<circle cx="217.30" cy="163.50" r="1.3" fill="#fff" fill-opacity="0.65"/><circle cx="217.30" cy="163.50" r="0.85" fill="#3a1a14"/>
<circle cx="221.20" cy="164.20" r="1.3" fill="#fff" fill-opacity="0.65"/><circle cx="221.20" cy="164.20" r="0.85" fill="#3a1a14"/>
<circle cx="223.00" cy="159.30" r="1.3" fill="#fff" fill-opacity="0.65"/><circle cx="223.00" cy="159.30" r="0.85" fill="#3a1a14"/>
<circle cx="241.30" cy="156.10" r="1.3" fill="#fff" fill-opacity="0.65"/><circle cx="241.30" cy="156.10" r="0.85" fill="#767a2a"/>
<circle cx="228.60" cy="167.10" r="1.3" fill="#fff" fill-opacity="0.65"/><circle cx="228.60" cy="167.10" r="0.85" fill="#3a1a14"/>
<circle cx="238.40" cy="165.90" r="1.3" fill="#fff" fill-opacity="0.65"/><circle cx="238.40" cy="165.90" r="0.85" fill="#3a1a14"/>
<circle cx="243.30" cy="167.60" r="1.3" fill="#fff" fill-opacity="0.65"/><circle cx="243.30" cy="167.60" r="0.85" fill="#3a1a14"/>
<circle cx="199.20" cy="175.00" r="1.3" fill="#fff" fill-opacity="0.65"/><circle cx="199.20" cy="175.00" r="0.85" fill="#3a1a14"/>
<circle cx="218.10" cy="174.50" r="1.3" fill="#fff" fill-opacity="0.65"/><circle cx="218.10" cy="174.50" r="0.85" fill="#3a1a14"/>
<circle cx="234.00" cy="171.60" r="1.3" fill="#fff" fill-opacity="0.65"/><circle cx="234.00" cy="171.60" r="0.85" fill="#3a1a14"/>
<circle cx="241.30" cy="174.50" r="1.3" fill="#fff" fill-opacity="0.65"/><circle cx="241.30" cy="174.50" r="0.85" fill="#767a2a"/>
<circle cx="215.60" cy="181.80" r="1.3" fill="#fff" fill-opacity="0.65"/><circle cx="215.60" cy="181.80" r="0.85" fill="#3a1a14"/>
<circle cx="221.20" cy="183.10" r="1.3" fill="#fff" fill-opacity="0.65"/><circle cx="221.20" cy="183.10" r="0.85" fill="#3a1a14"/>
<circle cx="226.10" cy="181.30" r="1.3" fill="#fff" fill-opacity="0.65"/><circle cx="226.10" cy="181.30" r="0.85" fill="#3a1a14"/>
<circle cx="231.00" cy="181.30" r="1.3" fill="#fff" fill-opacity="0.65"/><circle cx="231.00" cy="181.30" r="0.85" fill="#3a1a14"/>
<circle cx="237.70" cy="183.10" r="1.3" fill="#fff" fill-opacity="0.65"/><circle cx="237.70" cy="183.10" r="0.85" fill="#767a2a"/>
<circle cx="228.60" cy="188.00" r="1.3" fill="#fff" fill-opacity="0.65"/><circle cx="228.60" cy="188.00" r="0.85" fill="#3a1a14"/>
<circle cx="238.90" cy="189.20" r="1.3" fill="#fff" fill-opacity="0.65"/><circle cx="238.90" cy="189.20" r="0.85" fill="#767a2a"/>
<circle cx="223.00" cy="194.10" r="1.3" fill="#fff" fill-opacity="0.65"/><circle cx="223.00" cy="194.10" r="0.85" fill="#3a1a14"/>
<circle cx="230.30" cy="196.50" r="1.3" fill="#fff" fill-opacity="0.65"/><circle cx="230.30" cy="196.50" r="0.85" fill="#767a2a"/>
<circle cx="241.80" cy="199.00" r="1.3" fill="#fff" fill-opacity="0.65"/><circle cx="241.80" cy="199.00" r="0.85" fill="#3a1a14"/>
<circle cx="257.50" cy="159.40" r="1.3" fill="#fff" fill-opacity="0.65"/><circle cx="257.50" cy="159.40" r="0.85" fill="#767a2a"/>
<circle cx="247.80" cy="168.10" r="1.3" fill="#fff" fill-opacity="0.65"/><circle cx="247.80" cy="168.10" r="0.85" fill="#767a2a"/>
<circle cx="245.30" cy="173.90" r="1.3" fill="#fff" fill-opacity="0.65"/><circle cx="245.30" cy="173.90" r="0.85" fill="#767a2a"/>
<circle cx="254.90" cy="173.20" r="1.3" fill="#fff" fill-opacity="0.65"/><circle cx="254.90" cy="173.20" r="0.85" fill="#767a2a"/>
<circle cx="257.50" cy="177.10" r="1.3" fill="#fff" fill-opacity="0.65"/><circle cx="257.50" cy="177.10" r="0.85" fill="#3a1a14"/>
<circle cx="250.40" cy="178.70" r="1.3" fill="#fff" fill-opacity="0.65"/><circle cx="250.40" cy="178.70" r="0.85" fill="#767a2a"/>
<circle cx="252.60" cy="185.10" r="1.3" fill="#fff" fill-opacity="0.65"/><circle cx="252.60" cy="185.10" r="0.85" fill="#767a2a"/>
<circle cx="260.00" cy="186.10" r="1.3" fill="#fff" fill-opacity="0.65"/><circle cx="260.00" cy="186.10" r="0.85" fill="#767a2a"/>
<circle cx="246.20" cy="189.90" r="1.3" fill="#fff" fill-opacity="0.65"/><circle cx="246.20" cy="189.90" r="0.85" fill="#767a2a"/>
<circle cx="254.90" cy="189.30" r="1.3" fill="#fff" fill-opacity="0.65"/><circle cx="254.90" cy="189.30" r="0.85" fill="#767a2a"/>
<circle cx="268.70" cy="191.50" r="1.3" fill="#fff" fill-opacity="0.65"/><circle cx="268.70" cy="191.50" r="0.85" fill="#3a1a14"/>
<circle cx="254.20" cy="196.30" r="1.3" fill="#fff" fill-opacity="0.65"/><circle cx="254.20" cy="196.30" r="0.85" fill="#767a2a"/>
<circle cx="277.40" cy="196.30" r="1.3" fill="#fff" fill-opacity="0.65"/><circle cx="277.40" cy="196.30" r="0.85" fill="#767a2a"/>
<circle cx="249.40" cy="206.00" r="1.3" fill="#fff" fill-opacity="0.65"/><circle cx="249.40" cy="206.00" r="0.85" fill="#3a1a14"/>
<circle cx="281.50" cy="209.20" r="1.3" fill="#fff" fill-opacity="0.65"/><circle cx="281.50" cy="209.20" r="0.85" fill="#3a1a14"/>
<circle cx="268.70" cy="218.80" r="1.3" fill="#fff" fill-opacity="0.65"/><circle cx="268.70" cy="218.80" r="0.85" fill="#767a2a"/>
<rect x="174.3" y="139.3" width="52.599999999999994" height="8.299999999999983" fill="#fff" stroke="#888" stroke-width="0.4"/>
<circle cx="180.4" cy="141.79" r="0.9" fill="#2a1410"/>
<circle cx="180.4" cy="145.19" r="0.9" fill="#6b7420"/>
<text transform="translate(187.20 142.84) scale(0.2900)" x="0" y="0" font-size="10" fill="#111" textLength="132.8" lengthAdjust="spacingAndGlyphs" text-rendering="geometricPrecision" stroke="#111" stroke-width="0.241">Right coordinate of Surgiplan</text>
<text transform="translate(187.20 146.24) scale(0.2900)" x="0" y="0" font-size="10" fill="#111" textLength="132.8" lengthAdjust="spacingAndGlyphs" text-rendering="geometricPrecision" stroke="#111" stroke-width="0.241">Right coordinate of Lead DBS</text>
<line x1="330.00" y1="133.00" x2="330.00" y2="238.50" stroke="#e4e4e4" stroke-width="0.35"/>
<line x1="343.19" y1="133.00" x2="343.19" y2="238.50" stroke="#e4e4e4" stroke-width="0.35"/>
<line x1="356.38" y1="133.00" x2="356.38" y2="238.50" stroke="#e4e4e4" stroke-width="0.35"/>
<line x1="369.56" y1="133.00" x2="369.56" y2="238.50" stroke="#e4e4e4" stroke-width="0.35"/>
<line x1="382.75" y1="133.00" x2="382.75" y2="238.50" stroke="#e4e4e4" stroke-width="0.35"/>
<line x1="395.94" y1="133.00" x2="395.94" y2="238.50" stroke="#e4e4e4" stroke-width="0.35"/>
<line x1="409.12" y1="133.00" x2="409.12" y2="238.50" stroke="#e4e4e4" stroke-width="0.35"/>
<line x1="422.31" y1="133.00" x2="422.31" y2="238.50" stroke="#e4e4e4" stroke-width="0.35"/>
<line x1="435.50" y1="133.00" x2="435.50" y2="238.50" stroke="#e4e4e4" stroke-width="0.35"/>
<line x1="327.80" y1="143.80" x2="436.50" y2="143.80" stroke="#e4e4e4" stroke-width="0.35"/>
<line x1="327.80" y1="157.07" x2="436.50" y2="157.07" stroke="#e4e4e4" stroke-width="0.35"/>
<line x1="327.80" y1="170.34" x2="436.50" y2="170.34" stroke="#e4e4e4" stroke-width="0.35"/>
<line x1="327.80" y1="183.61" x2="436.50" y2="183.61" stroke="#e4e4e4" stroke-width="0.35"/>
<line x1="327.80" y1="196.89" x2="436.50" y2="196.89" stroke="#e4e4e4" stroke-width="0.35"/>
<line x1="327.80" y1="210.16" x2="436.50" y2="210.16" stroke="#e4e4e4" stroke-width="0.35"/>
<line x1="327.80" y1="223.43" x2="436.50" y2="223.43" stroke="#e4e4e4" stroke-width="0.35"/>
<line x1="327.80" y1="236.70" x2="436.50" y2="236.70" stroke="#e4e4e4" stroke-width="0.35"/>
<rect x="327.8" y="133" width="108.69999999999999" height="105.5" fill="none" stroke="#8a8a8a" stroke-width="0.5"/>
<text x="330.40" y="242.70" font-size="3.1" text-anchor="middle" fill="#111" stroke="#222" stroke-width="0.08">9</text>
<line x1="330.00" y1="238.50" x2="330.00" y2="237.50" stroke="#777" stroke-width="0.3"/>
<text x="343.59" y="242.70" font-size="3.1" text-anchor="middle" fill="#111" stroke="#222" stroke-width="0.08">10</text>
<line x1="343.19" y1="238.50" x2="343.19" y2="237.50" stroke="#777" stroke-width="0.3"/>
<text x="356.77" y="242.70" font-size="3.1" text-anchor="middle" fill="#111" stroke="#222" stroke-width="0.08">11</text>
<line x1="356.38" y1="238.50" x2="356.38" y2="237.50" stroke="#777" stroke-width="0.3"/>
<text x="369.96" y="242.70" font-size="3.1" text-anchor="middle" fill="#111" stroke="#222" stroke-width="0.08">12</text>
<line x1="369.56" y1="238.50" x2="369.56" y2="237.50" stroke="#777" stroke-width="0.3"/>
<text x="383.15" y="242.70" font-size="3.1" text-anchor="middle" fill="#111" stroke="#222" stroke-width="0.08">13</text>
<line x1="382.75" y1="238.50" x2="382.75" y2="237.50" stroke="#777" stroke-width="0.3"/>
<text x="396.34" y="242.70" font-size="3.1" text-anchor="middle" fill="#111" stroke="#222" stroke-width="0.08">14</text>
<line x1="395.94" y1="238.50" x2="395.94" y2="237.50" stroke="#777" stroke-width="0.3"/>
<text x="409.52" y="242.70" font-size="3.1" text-anchor="middle" fill="#111" stroke="#222" stroke-width="0.08">15</text>
<line x1="409.12" y1="238.50" x2="409.12" y2="237.50" stroke="#777" stroke-width="0.3"/>
<text x="422.71" y="242.70" font-size="3.1" text-anchor="middle" fill="#111" stroke="#222" stroke-width="0.08">16</text>
<line x1="422.31" y1="238.50" x2="422.31" y2="237.50" stroke="#777" stroke-width="0.3"/>
<text x="435.90" y="242.70" font-size="3.1" text-anchor="middle" fill="#111" stroke="#222" stroke-width="0.08">17</text>
<line x1="435.50" y1="238.50" x2="435.50" y2="237.50" stroke="#777" stroke-width="0.3"/>
<text x="326.60" y="145.70" font-size="3.1" text-anchor="end" fill="#111" stroke="#222" stroke-width="0.08">6</text>
<line x1="327.80" y1="143.80" x2="328.80" y2="143.80" stroke="#777" stroke-width="0.3"/>
<text x="326.60" y="158.97" font-size="3.1" text-anchor="end" fill="#111" stroke="#222" stroke-width="0.08">5</text>
<line x1="327.80" y1="157.07" x2="328.80" y2="157.07" stroke="#777" stroke-width="0.3"/>
<text x="326.60" y="172.24" font-size="3.1" text-anchor="end" fill="#111" stroke="#222" stroke-width="0.08">4</text>
<line x1="327.80" y1="170.34" x2="328.80" y2="170.34" stroke="#777" stroke-width="0.3"/>
<text x="326.60" y="185.51" font-size="3.1" text-anchor="end" fill="#111" stroke="#222" stroke-width="0.08">3</text>
<line x1="327.80" y1="183.61" x2="328.80" y2="183.61" stroke="#777" stroke-width="0.3"/>
<text x="326.60" y="198.79" font-size="3.1" text-anchor="end" fill="#111" stroke="#222" stroke-width="0.08">2</text>
<line x1="327.80" y1="196.89" x2="328.80" y2="196.89" stroke="#777" stroke-width="0.3"/>
<text x="326.60" y="212.06" font-size="3.1" text-anchor="end" fill="#111" stroke="#222" stroke-width="0.08">1</text>
<line x1="327.80" y1="210.16" x2="328.80" y2="210.16" stroke="#777" stroke-width="0.3"/>
<text x="326.60" y="225.33" font-size="3.1" text-anchor="end" fill="#111" stroke="#222" stroke-width="0.08">0</text>
<line x1="327.80" y1="223.43" x2="328.80" y2="223.43" stroke="#777" stroke-width="0.3"/>
<text x="326.60" y="238.60" font-size="3.1" text-anchor="end" fill="#111" stroke="#222" stroke-width="0.08">-1</text>
<line x1="327.80" y1="236.70" x2="328.80" y2="236.70" stroke="#777" stroke-width="0.3"/>
<text x="382.50" y="248.30" font-size="5.5" text-anchor="middle" fill="#111" textLength="39.00" lengthAdjust="spacingAndGlyphs" stroke="#111" stroke-width="0.09">X coordinate (mm)</text>
<text x="324.00" y="185.75" font-size="5.5" text-anchor="middle" fill="#111" textLength="39.50" lengthAdjust="spacingAndGlyphs" transform="rotate(-90 324.00 185.75)" stroke="#111" stroke-width="0.09">Z coordinate (mm)</text>
<text x="322.20" y="258.90" font-size="11" text-anchor="middle" fill="#111" stroke="#111" stroke-width="0.05">G</text>
<ellipse cx="382.80" cy="180.30" rx="41.65" ry="27.55" transform="rotate(-173.13 382.80 180.30)" fill="url(#g17)" stroke="none" style="mix-blend-mode:multiply"/>
<ellipse cx="380.89" cy="186.76" rx="43.60" ry="21.93" transform="rotate(-121.05 380.89 186.76)" fill="url(#g18)" stroke="none" style="mix-blend-mode:multiply"/>
<circle cx="373.70" cy="152.10" r="1.3" fill="#fff" fill-opacity="0.65"/><circle cx="373.70" cy="152.10" r="0.85" fill="#767a2a"/>
<circle cx="377.80" cy="152.10" r="1.3" fill="#fff" fill-opacity="0.65"/><circle cx="377.80" cy="152.10" r="0.85" fill="#3a1a14"/>
<circle cx="365.00" cy="157.20" r="1.3" fill="#fff" fill-opacity="0.65"/><circle cx="365.00" cy="157.20" r="0.85" fill="#767a2a"/>
<circle cx="366.30" cy="158.50" r="1.3" fill="#fff" fill-opacity="0.65"/><circle cx="366.30" cy="158.50" r="0.85" fill="#3a1a14"/>
<circle cx="372.10" cy="157.20" r="1.3" fill="#fff" fill-opacity="0.65"/><circle cx="372.10" cy="157.20" r="0.85" fill="#3a1a14"/>
<circle cx="381.10" cy="160.40" r="1.3" fill="#fff" fill-opacity="0.65"/><circle cx="381.10" cy="160.40" r="0.85" fill="#3a1a14"/>
<circle cx="384.90" cy="159.40" r="1.3" fill="#fff" fill-opacity="0.65"/><circle cx="384.90" cy="159.40" r="0.85" fill="#3a1a14"/>
<circle cx="374.60" cy="163.60" r="1.3" fill="#fff" fill-opacity="0.65"/><circle cx="374.60" cy="163.60" r="0.85" fill="#3a1a14"/>
<circle cx="359.90" cy="165.80" r="1.3" fill="#fff" fill-opacity="0.65"/><circle cx="359.90" cy="165.80" r="0.85" fill="#3a1a14"/>
<circle cx="375.30" cy="169.10" r="1.3" fill="#fff" fill-opacity="0.65"/><circle cx="375.30" cy="169.10" r="0.85" fill="#767a2a"/>
<circle cx="377.80" cy="171.30" r="1.3" fill="#fff" fill-opacity="0.65"/><circle cx="377.80" cy="171.30" r="0.85" fill="#3a1a14"/>
<circle cx="375.90" cy="172.30" r="1.3" fill="#fff" fill-opacity="0.65"/><circle cx="375.90" cy="172.30" r="0.85" fill="#767a2a"/>
<circle cx="383.30" cy="173.20" r="1.3" fill="#fff" fill-opacity="0.65"/><circle cx="383.30" cy="173.20" r="0.85" fill="#3a1a14"/>
<circle cx="388.10" cy="172.30" r="1.3" fill="#fff" fill-opacity="0.65"/><circle cx="388.10" cy="172.30" r="0.85" fill="#767a2a"/>
<circle cx="357.60" cy="176.40" r="1.3" fill="#fff" fill-opacity="0.65"/><circle cx="357.60" cy="176.40" r="0.85" fill="#767a2a"/>
<circle cx="364.10" cy="176.40" r="1.3" fill="#fff" fill-opacity="0.65"/><circle cx="364.10" cy="176.40" r="0.85" fill="#767a2a"/>
<circle cx="368.90" cy="179.60" r="1.3" fill="#fff" fill-opacity="0.65"/><circle cx="368.90" cy="179.60" r="0.85" fill="#3a1a14"/>
<circle cx="380.10" cy="183.50" r="1.3" fill="#fff" fill-opacity="0.65"/><circle cx="380.10" cy="183.50" r="0.85" fill="#767a2a"/>
<circle cx="384.90" cy="182.80" r="1.3" fill="#fff" fill-opacity="0.65"/><circle cx="384.90" cy="182.80" r="0.85" fill="#767a2a"/>
<circle cx="363.10" cy="186.10" r="1.3" fill="#fff" fill-opacity="0.65"/><circle cx="363.10" cy="186.10" r="0.85" fill="#767a2a"/>
<circle cx="370.50" cy="187.30" r="1.3" fill="#fff" fill-opacity="0.65"/><circle cx="370.50" cy="187.30" r="0.85" fill="#767a2a"/>
<circle cx="344.80" cy="186.10" r="1.3" fill="#fff" fill-opacity="0.65"/><circle cx="344.80" cy="186.10" r="0.85" fill="#3a1a14"/>
<circle cx="357.60" cy="192.50" r="1.3" fill="#fff" fill-opacity="0.65"/><circle cx="357.60" cy="192.50" r="0.85" fill="#3a1a14"/>
<circle cx="370.50" cy="194.70" r="1.3" fill="#fff" fill-opacity="0.65"/><circle cx="370.50" cy="194.70" r="0.85" fill="#767a2a"/>
<circle cx="381.70" cy="204.30" r="1.3" fill="#fff" fill-opacity="0.65"/><circle cx="381.70" cy="204.30" r="0.85" fill="#3a1a14"/>
<circle cx="378.50" cy="217.20" r="1.3" fill="#fff" fill-opacity="0.65"/><circle cx="378.50" cy="217.20" r="0.85" fill="#767a2a"/>
<circle cx="390.30" cy="172.30" r="1.3" fill="#fff" fill-opacity="0.65"/><circle cx="390.30" cy="172.30" r="0.85" fill="#3a1a14"/>
<circle cx="392.80" cy="173.20" r="1.3" fill="#fff" fill-opacity="0.65"/><circle cx="392.80" cy="173.20" r="0.85" fill="#3a1a14"/>
<circle cx="398.60" cy="177.70" r="1.3" fill="#fff" fill-opacity="0.65"/><circle cx="398.60" cy="177.70" r="0.85" fill="#3a1a14"/>
<circle cx="383.80" cy="179.60" r="1.3" fill="#fff" fill-opacity="0.65"/><circle cx="383.80" cy="179.60" r="0.85" fill="#767a2a"/>
<circle cx="390.30" cy="187.30" r="1.3" fill="#fff" fill-opacity="0.65"/><circle cx="390.30" cy="187.30" r="0.85" fill="#767a2a"/>
<circle cx="415.90" cy="189.30" r="1.3" fill="#fff" fill-opacity="0.65"/><circle cx="415.90" cy="189.30" r="0.85" fill="#3a1a14"/>
<circle cx="389.00" cy="194.70" r="1.3" fill="#fff" fill-opacity="0.65"/><circle cx="389.00" cy="194.70" r="0.85" fill="#3a1a14"/>
<circle cx="391.20" cy="195.70" r="1.3" fill="#fff" fill-opacity="0.65"/><circle cx="391.20" cy="195.70" r="0.85" fill="#767a2a"/>
<circle cx="393.50" cy="194.70" r="1.3" fill="#fff" fill-opacity="0.65"/><circle cx="393.50" cy="194.70" r="0.85" fill="#3a1a14"/>
<circle cx="409.50" cy="206.60" r="1.3" fill="#fff" fill-opacity="0.65"/><circle cx="409.50" cy="206.60" r="0.85" fill="#767a2a"/>
<rect x="329.6" y="134" width="52.599999999999966" height="8.300000000000011" fill="#fff" stroke="#888" stroke-width="0.4"/>
<circle cx="335.4" cy="136.49" r="0.9" fill="#2a1410"/>
<circle cx="335.4" cy="139.89" r="0.9" fill="#6b7420"/>
<text transform="translate(342.20 137.54) scale(0.2900)" x="0" y="0" font-size="10" fill="#111" textLength="133.8" lengthAdjust="spacingAndGlyphs" text-rendering="geometricPrecision" stroke="#111" stroke-width="0.241">Right coordinate of Surgiplan</text>
<text transform="translate(342.20 140.94) scale(0.2900)" x="0" y="0" font-size="10" fill="#111" textLength="133.8" lengthAdjust="spacingAndGlyphs" text-rendering="geometricPrecision" stroke="#111" stroke-width="0.241">Right coordinate of Lead DBS</text>
<line x1="463.00" y1="137.40" x2="463.00" y2="242.50" stroke="#e4e4e4" stroke-width="0.35"/>
<line x1="473.12" y1="137.40" x2="473.12" y2="242.50" stroke="#e4e4e4" stroke-width="0.35"/>
<line x1="483.25" y1="137.40" x2="483.25" y2="242.50" stroke="#e4e4e4" stroke-width="0.35"/>
<line x1="493.38" y1="137.40" x2="493.38" y2="242.50" stroke="#e4e4e4" stroke-width="0.35"/>
<line x1="503.50" y1="137.40" x2="503.50" y2="242.50" stroke="#e4e4e4" stroke-width="0.35"/>
<line x1="513.62" y1="137.40" x2="513.62" y2="242.50" stroke="#e4e4e4" stroke-width="0.35"/>
<line x1="523.75" y1="137.40" x2="523.75" y2="242.50" stroke="#e4e4e4" stroke-width="0.35"/>
<line x1="533.88" y1="137.40" x2="533.88" y2="242.50" stroke="#e4e4e4" stroke-width="0.35"/>
<line x1="460.80" y1="143.10" x2="544.00" y2="143.10" stroke="#e4e4e4" stroke-width="0.35"/>
<line x1="460.80" y1="153.31" x2="544.00" y2="153.31" stroke="#e4e4e4" stroke-width="0.35"/>
<line x1="460.80" y1="163.52" x2="544.00" y2="163.52" stroke="#e4e4e4" stroke-width="0.35"/>
<line x1="460.80" y1="173.73" x2="544.00" y2="173.73" stroke="#e4e4e4" stroke-width="0.35"/>
<line x1="460.80" y1="183.94" x2="544.00" y2="183.94" stroke="#e4e4e4" stroke-width="0.35"/>
<line x1="460.80" y1="194.16" x2="544.00" y2="194.16" stroke="#e4e4e4" stroke-width="0.35"/>
<line x1="460.80" y1="204.37" x2="544.00" y2="204.37" stroke="#e4e4e4" stroke-width="0.35"/>
<line x1="460.80" y1="214.58" x2="544.00" y2="214.58" stroke="#e4e4e4" stroke-width="0.35"/>
<line x1="460.80" y1="224.79" x2="544.00" y2="224.79" stroke="#e4e4e4" stroke-width="0.35"/>
<line x1="460.80" y1="235.00" x2="544.00" y2="235.00" stroke="#e4e4e4" stroke-width="0.35"/>
<rect x="460.8" y="137.4" width="83.19999999999999" height="105.1" fill="none" stroke="#8a8a8a" stroke-width="0.5"/>
<text x="463.40" y="246.70" font-size="3.1" text-anchor="middle" fill="#111" stroke="#222" stroke-width="0.08">9</text>
<line x1="463.00" y1="242.50" x2="463.00" y2="241.50" stroke="#777" stroke-width="0.3"/>
<text x="473.52" y="246.70" font-size="3.1" text-anchor="middle" fill="#111" stroke="#222" stroke-width="0.08">10</text>
<line x1="473.12" y1="242.50" x2="473.12" y2="241.50" stroke="#777" stroke-width="0.3"/>
<text x="483.65" y="246.70" font-size="3.1" text-anchor="middle" fill="#111" stroke="#222" stroke-width="0.08">11</text>
<line x1="483.25" y1="242.50" x2="483.25" y2="241.50" stroke="#777" stroke-width="0.3"/>
<text x="493.77" y="246.70" font-size="3.1" text-anchor="middle" fill="#111" stroke="#222" stroke-width="0.08">12</text>
<line x1="493.38" y1="242.50" x2="493.38" y2="241.50" stroke="#777" stroke-width="0.3"/>
<text x="503.90" y="246.70" font-size="3.1" text-anchor="middle" fill="#111" stroke="#222" stroke-width="0.08">13</text>
<line x1="503.50" y1="242.50" x2="503.50" y2="241.50" stroke="#777" stroke-width="0.3"/>
<text x="514.02" y="246.70" font-size="3.1" text-anchor="middle" fill="#111" stroke="#222" stroke-width="0.08">14</text>
<line x1="513.62" y1="242.50" x2="513.62" y2="241.50" stroke="#777" stroke-width="0.3"/>
<text x="524.15" y="246.70" font-size="3.1" text-anchor="middle" fill="#111" stroke="#222" stroke-width="0.08">15</text>
<line x1="523.75" y1="242.50" x2="523.75" y2="241.50" stroke="#777" stroke-width="0.3"/>
<text x="534.27" y="246.70" font-size="3.1" text-anchor="middle" fill="#111" stroke="#222" stroke-width="0.08">16</text>
<line x1="533.88" y1="242.50" x2="533.88" y2="241.50" stroke="#777" stroke-width="0.3"/>
<text x="544.40" y="246.70" font-size="3.1" text-anchor="middle" fill="#111" stroke="#222" stroke-width="0.08">17</text>
<line x1="544.00" y1="242.50" x2="544.00" y2="241.50" stroke="#777" stroke-width="0.3"/>
<text x="459.60" y="145.00" font-size="3.1" text-anchor="end" fill="#111" stroke="#222" stroke-width="0.08">17</text>
<line x1="460.80" y1="143.10" x2="461.80" y2="143.10" stroke="#777" stroke-width="0.3"/>
<text x="459.60" y="155.21" font-size="3.1" text-anchor="end" fill="#111" stroke="#222" stroke-width="0.08">16</text>
<line x1="460.80" y1="153.31" x2="461.80" y2="153.31" stroke="#777" stroke-width="0.3"/>
<text x="459.60" y="165.42" font-size="3.1" text-anchor="end" fill="#111" stroke="#222" stroke-width="0.08">15</text>
<line x1="460.80" y1="163.52" x2="461.80" y2="163.52" stroke="#777" stroke-width="0.3"/>
<text x="459.60" y="175.63" font-size="3.1" text-anchor="end" fill="#111" stroke="#222" stroke-width="0.08">14</text>
<line x1="460.80" y1="173.73" x2="461.80" y2="173.73" stroke="#777" stroke-width="0.3"/>
<text x="459.60" y="185.84" font-size="3.1" text-anchor="end" fill="#111" stroke="#222" stroke-width="0.08">13</text>
<line x1="460.80" y1="183.94" x2="461.80" y2="183.94" stroke="#777" stroke-width="0.3"/>
<text x="459.60" y="196.06" font-size="3.1" text-anchor="end" fill="#111" stroke="#222" stroke-width="0.08">12</text>
<line x1="460.80" y1="194.16" x2="461.80" y2="194.16" stroke="#777" stroke-width="0.3"/>
<text x="459.60" y="206.27" font-size="3.1" text-anchor="end" fill="#111" stroke="#222" stroke-width="0.08">11</text>
<line x1="460.80" y1="204.37" x2="461.80" y2="204.37" stroke="#777" stroke-width="0.3"/>
<text x="459.60" y="216.48" font-size="3.1" text-anchor="end" fill="#111" stroke="#222" stroke-width="0.08">10</text>
<line x1="460.80" y1="214.58" x2="461.80" y2="214.58" stroke="#777" stroke-width="0.3"/>
<text x="459.60" y="226.69" font-size="3.1" text-anchor="end" fill="#111" stroke="#222" stroke-width="0.08">9</text>
<line x1="460.80" y1="224.79" x2="461.80" y2="224.79" stroke="#777" stroke-width="0.3"/>
<text x="459.60" y="236.90" font-size="3.1" text-anchor="end" fill="#111" stroke="#222" stroke-width="0.08">8</text>
<line x1="460.80" y1="235.00" x2="461.80" y2="235.00" stroke="#777" stroke-width="0.3"/>
<text x="502.00" y="252.80" font-size="5.5" text-anchor="middle" fill="#111" textLength="38.00" lengthAdjust="spacingAndGlyphs" stroke="#111" stroke-width="0.09">X coordinate (mm)</text>
<text x="455.50" y="189.95" font-size="5.5" text-anchor="middle" fill="#111" textLength="39.50" lengthAdjust="spacingAndGlyphs" transform="rotate(-90 455.50 189.95)" stroke="#111" stroke-width="0.09">Y coordinate (mm)</text>
<text x="454.50" y="258.50" font-size="11" text-anchor="middle" fill="#111" stroke="#111" stroke-width="0.05">H</text>
<ellipse cx="503.83" cy="194.47" rx="36.90" ry="28.61" transform="rotate(-60.04 503.83 194.47)" fill="url(#g19)" stroke="none" style="mix-blend-mode:multiply"/>
<ellipse cx="501.45" cy="177.35" rx="33.97" ry="17.60" transform="rotate(-50.13 501.45 177.35)" fill="url(#g20)" stroke="none" style="mix-blend-mode:multiply"/>
<circle cx="522.90" cy="155.30" r="1.3" fill="#fff" fill-opacity="0.65"/><circle cx="522.90" cy="155.30" r="0.85" fill="#767a2a"/>
<circle cx="528.40" cy="164.90" r="1.3" fill="#fff" fill-opacity="0.65"/><circle cx="528.40" cy="164.90" r="0.85" fill="#3a1a14"/>
<circle cx="507.80" cy="158.50" r="1.3" fill="#fff" fill-opacity="0.65"/><circle cx="507.80" cy="158.50" r="0.85" fill="#767a2a"/>
<circle cx="500.50" cy="165.80" r="1.3" fill="#fff" fill-opacity="0.65"/><circle cx="500.50" cy="165.80" r="0.85" fill="#767a2a"/>
<circle cx="508.50" cy="170.00" r="1.3" fill="#fff" fill-opacity="0.65"/><circle cx="508.50" cy="170.00" r="0.85" fill="#3a1a14"/>
<circle cx="484.40" cy="176.40" r="1.3" fill="#fff" fill-opacity="0.65"/><circle cx="484.40" cy="176.40" r="0.85" fill="#767a2a"/>
<circle cx="490.80" cy="173.90" r="1.3" fill="#fff" fill-opacity="0.65"/><circle cx="490.80" cy="173.90" r="0.85" fill="#767a2a"/>
<circle cx="495.70" cy="173.20" r="1.3" fill="#fff" fill-opacity="0.65"/><circle cx="495.70" cy="173.20" r="0.85" fill="#767a2a"/>
<circle cx="499.50" cy="173.20" r="1.3" fill="#fff" fill-opacity="0.65"/><circle cx="499.50" cy="173.20" r="0.85" fill="#767a2a"/>
<circle cx="502.10" cy="175.50" r="1.3" fill="#fff" fill-opacity="0.65"/><circle cx="502.10" cy="175.50" r="0.85" fill="#3a1a14"/>
<circle cx="505.30" cy="176.40" r="1.3" fill="#fff" fill-opacity="0.65"/><circle cx="505.30" cy="176.40" r="0.85" fill="#767a2a"/>
<circle cx="511.70" cy="177.10" r="1.3" fill="#fff" fill-opacity="0.65"/><circle cx="511.70" cy="177.10" r="0.85" fill="#767a2a"/>
<circle cx="487.60" cy="180.30" r="1.3" fill="#fff" fill-opacity="0.65"/><circle cx="487.60" cy="180.30" r="0.85" fill="#767a2a"/>
<circle cx="492.50" cy="179.60" r="1.3" fill="#fff" fill-opacity="0.65"/><circle cx="492.50" cy="179.60" r="0.85" fill="#767a2a"/>
<circle cx="498.20" cy="180.90" r="1.3" fill="#fff" fill-opacity="0.65"/><circle cx="498.20" cy="180.90" r="0.85" fill="#767a2a"/>
<circle cx="489.90" cy="184.10" r="1.3" fill="#fff" fill-opacity="0.65"/><circle cx="489.90" cy="184.10" r="0.85" fill="#767a2a"/>
<circle cx="494.10" cy="185.10" r="1.3" fill="#fff" fill-opacity="0.65"/><circle cx="494.10" cy="185.10" r="0.85" fill="#3a1a14"/>
<circle cx="496.30" cy="184.10" r="1.3" fill="#fff" fill-opacity="0.65"/><circle cx="496.30" cy="184.10" r="0.85" fill="#767a2a"/>
<circle cx="501.40" cy="183.50" r="1.3" fill="#fff" fill-opacity="0.65"/><circle cx="501.40" cy="183.50" r="0.85" fill="#767a2a"/>
<circle cx="485.40" cy="186.10" r="1.3" fill="#fff" fill-opacity="0.65"/><circle cx="485.40" cy="186.10" r="0.85" fill="#3a1a14"/>
<circle cx="495.00" cy="189.30" r="1.3" fill="#fff" fill-opacity="0.65"/><circle cx="495.00" cy="189.30" r="0.85" fill="#3a1a14"/>
<circle cx="503.70" cy="189.90" r="1.3" fill="#fff" fill-opacity="0.65"/><circle cx="503.70" cy="189.90" r="0.85" fill="#767a2a"/>
<circle cx="488.60" cy="193.10" r="1.3" fill="#fff" fill-opacity="0.65"/><circle cx="488.60" cy="193.10" r="0.85" fill="#767a2a"/>
<circle cx="497.30" cy="192.50" r="1.3" fill="#fff" fill-opacity="0.65"/><circle cx="497.30" cy="192.50" r="0.85" fill="#3a1a14"/>
<circle cx="508.50" cy="194.70" r="1.3" fill="#fff" fill-opacity="0.65"/><circle cx="508.50" cy="194.70" r="0.85" fill="#3a1a14"/>
<circle cx="510.10" cy="196.30" r="1.3" fill="#fff" fill-opacity="0.65"/><circle cx="510.10" cy="196.30" r="0.85" fill="#767a2a"/>
<circle cx="515.50" cy="195.70" r="1.3" fill="#fff" fill-opacity="0.65"/><circle cx="515.50" cy="195.70" r="0.85" fill="#3a1a14"/>
<circle cx="473.80" cy="197.00" r="1.3" fill="#fff" fill-opacity="0.65"/><circle cx="473.80" cy="197.00" r="0.85" fill="#3a1a14"/>
<circle cx="482.80" cy="202.70" r="1.3" fill="#fff" fill-opacity="0.65"/><circle cx="482.80" cy="202.70" r="0.85" fill="#3a1a14"/>
<circle cx="487.60" cy="204.30" r="1.3" fill="#fff" fill-opacity="0.65"/><circle cx="487.60" cy="204.30" r="0.85" fill="#3a1a14"/>
<circle cx="490.80" cy="203.40" r="1.3" fill="#fff" fill-opacity="0.65"/><circle cx="490.80" cy="203.40" r="0.85" fill="#767a2a"/>
<circle cx="502.10" cy="205.90" r="1.3" fill="#fff" fill-opacity="0.65"/><circle cx="502.10" cy="205.90" r="0.85" fill="#3a1a14"/>
<circle cx="503.70" cy="207.50" r="1.3" fill="#fff" fill-opacity="0.65"/><circle cx="503.70" cy="207.50" r="0.85" fill="#3a1a14"/>
<circle cx="499.50" cy="210.70" r="1.3" fill="#fff" fill-opacity="0.65"/><circle cx="499.50" cy="210.70" r="0.85" fill="#3a1a14"/>
<circle cx="489.90" cy="217.20" r="1.3" fill="#fff" fill-opacity="0.65"/><circle cx="489.90" cy="217.20" r="0.85" fill="#3a1a14"/>
<circle cx="511.10" cy="222.00" r="1.3" fill="#fff" fill-opacity="0.65"/><circle cx="511.10" cy="222.00" r="0.85" fill="#3a1a14"/>
<rect x="461.6" y="137.8" width="53.10000000000002" height="9.099999999999994" fill="#fff" stroke="#888" stroke-width="0.4"/>
<circle cx="467.6" cy="140.53" r="0.9" fill="#2a1410"/>
<circle cx="467.6" cy="144.26" r="0.9" fill="#6b7420"/>
<text transform="translate(474.40 141.58) scale(0.2900)" x="0" y="0" font-size="10" fill="#111" textLength="134.8" lengthAdjust="spacingAndGlyphs" text-rendering="geometricPrecision" stroke="#111" stroke-width="0.241">Right coordinate of Surgiplan</text>
<text transform="translate(474.40 145.31) scale(0.2900)" x="0" y="0" font-size="10" fill="#111" textLength="134.8" lengthAdjust="spacingAndGlyphs" text-rendering="geometricPrecision" stroke="#111" stroke-width="0.241">Right coordinate of Lead DBS</text>
</g></svg></body></html>
